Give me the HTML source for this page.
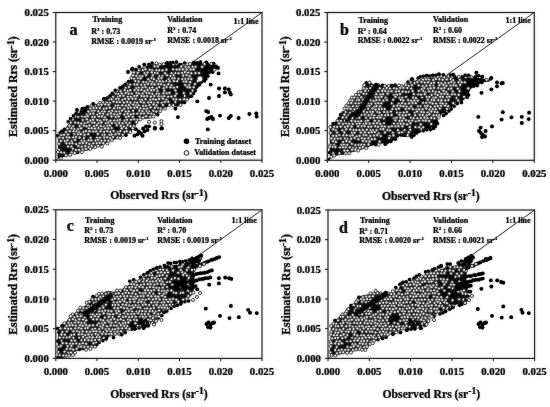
<!DOCTYPE html><html><head><meta charset="utf-8"><style>html,body{margin:0;padding:0;background:#fff;width:550px;height:407px;overflow:hidden}svg{display:block}.t{font-family:"Liberation Serif", "Times New Roman", serif;font-weight:bold;fill:#111;stroke:#111;stroke-width:.22px}.w circle{fill:#fff;stroke:#000;stroke-width:.75}.k circle{fill:#000}</style></head><body>
<svg width="550" height="407" viewBox="0 0 550 407">
<rect width="550" height="407" fill="#fff"/>
<g id="all">
<clipPath id="cpa"><rect x="55.8" y="12.5" width="206.2" height="147.7"/></clipPath>
<line x1="55.8" y1="160.2" x2="262" y2="12.5" stroke="#111" stroke-width=".8"/>
<g clip-path="url(#cpa)">
<polygon points="58.4,136.9 62,133.1 67.6,125.4 72.9,118.8 78.3,113.5 83.3,109.4 88.7,107.4 94.2,105.1 99.9,102.8 105.5,99.5 111.6,96.1 117.1,90.6 121.3,88.3 128,84.2 131.2,76.3 134.7,72 143,67 155.8,64.1 165.1,63.6 180,63.6 195,64.1 204.9,63.6 214.5,64.6 217.9,65.1 217.7,67.8 212.5,71.4 207,75.3 203.9,81.5 199.2,86.2 194.1,91.3 187.6,99.2 182.7,103.7 174.7,105.9 167.2,105.5 160.4,111.4 154.6,115.6 149.3,118.5 139.7,119.2 135.8,124.7 134.8,126.6 130.3,132.4 123.9,135.6 113.1,140.2 109.1,141.4 101.7,145.8 96.6,146.5 89.1,150.3 79,151.4 73.5,152.9 69.5,155 66,156.5 59.7,157.9 57.8,158.7" fill="#000"/>
<g class="k"><circle cx="148.8" cy="64.6" r="1.8"/><circle cx="166.2" cy="63.8" r="1.8"/><circle cx="169.4" cy="64.3" r="1.8"/><circle cx="180.5" cy="64.6" r="1.8"/><circle cx="196.4" cy="63.6" r="1.8"/><circle cx="200.2" cy="64.2" r="1.8"/><circle cx="207.9" cy="64.6" r="1.8"/><circle cx="147.7" cy="67.5" r="1.8"/><circle cx="151.2" cy="66.9" r="1.8"/><circle cx="168.5" cy="67" r="1.8"/><circle cx="175.1" cy="67.3" r="1.8"/><circle cx="177.8" cy="67" r="1.8"/><circle cx="205.6" cy="67.5" r="1.8"/><circle cx="206.9" cy="69.8" r="1.8"/><circle cx="141.4" cy="73" r="1.8"/><circle cx="161.9" cy="73" r="1.8"/><circle cx="167.7" cy="72.8" r="1.8"/><circle cx="206" cy="73.1" r="1.8"/><circle cx="209" cy="72.8" r="1.8"/><circle cx="212.6" cy="72.2" r="1.8"/><circle cx="148.8" cy="75.7" r="1.8"/><circle cx="180.8" cy="75.8" r="1.8"/><circle cx="196.7" cy="75.4" r="1.8"/><circle cx="200.5" cy="75.3" r="1.8"/><circle cx="193.3" cy="81.4" r="1.8"/><circle cx="200.4" cy="82" r="1.8"/><circle cx="182.5" cy="84" r="1.8"/><circle cx="191.4" cy="84.3" r="1.8"/><circle cx="199.5" cy="84.7" r="1.8"/><circle cx="180.5" cy="87.1" r="1.8"/><circle cx="183.4" cy="88" r="1.8"/><circle cx="161.7" cy="91" r="1.8"/><circle cx="167.7" cy="90.5" r="1.8"/><circle cx="181.2" cy="91.1" r="1.8"/><circle cx="185.4" cy="90.3" r="1.8"/><circle cx="189" cy="90.1" r="1.8"/><circle cx="187" cy="93.3" r="1.8"/><circle cx="193.4" cy="93.6" r="1.8"/><circle cx="189" cy="97" r="1.8"/><circle cx="181.7" cy="101.8" r="1.8"/><circle cx="184.5" cy="102.5" r="1.8"/><circle cx="112.1" cy="105.2" r="1.8"/><circle cx="166.5" cy="105.5" r="1.8"/><circle cx="177.2" cy="104.9" r="1.8"/><circle cx="109" cy="116.5" r="1.8"/><circle cx="136.2" cy="116.3" r="1.8"/><circle cx="76.3" cy="119.4" r="1.8"/><circle cx="133.1" cy="122.3" r="1.8"/><circle cx="77.1" cy="125.8" r="1.8"/><circle cx="84.7" cy="128.3" r="1.8"/><circle cx="129" cy="129.2" r="1.8"/><circle cx="63" cy="131.5" r="1.8"/><circle cx="94.9" cy="134.1" r="1.8"/><circle cx="87.1" cy="138.2" r="1.8"/><circle cx="93.8" cy="136.9" r="1.8"/><circle cx="78.2" cy="139.9" r="1.8"/><circle cx="74.8" cy="146.2" r="1.8"/><circle cx="66.7" cy="148.9" r="1.8"/><circle cx="77.7" cy="152.5" r="1.8"/></g>
<g class="w"><circle cx="156.4" cy="63.3" r="1.55"/><circle cx="159.7" cy="64.6" r="1.55"/><circle cx="163.6" cy="64.2" r="1.55"/><circle cx="173.3" cy="64.3" r="1.55"/><circle cx="176.5" cy="63.6" r="1.55"/><circle cx="184" cy="64.4" r="1.55"/><circle cx="187.3" cy="64.3" r="1.55"/><circle cx="189.9" cy="64" r="1.55"/><circle cx="204.5" cy="63.9" r="1.55"/><circle cx="211.3" cy="63.8" r="1.55"/><circle cx="144.5" cy="67.5" r="1.55"/><circle cx="154.6" cy="66.2" r="1.55"/><circle cx="157.9" cy="66.4" r="1.55"/><circle cx="181.4" cy="66.6" r="1.55"/><circle cx="185.6" cy="66.9" r="1.55"/><circle cx="188.7" cy="67.3" r="1.55"/><circle cx="192.6" cy="66.8" r="1.55"/><circle cx="195.6" cy="66.9" r="1.55"/><circle cx="202.1" cy="66.9" r="1.55"/><circle cx="138.8" cy="70.4" r="1.55"/><circle cx="142.8" cy="70.1" r="1.55"/><circle cx="145.5" cy="69.2" r="1.55"/><circle cx="149.8" cy="69.7" r="1.55"/><circle cx="152.3" cy="70.4" r="1.55"/><circle cx="156.5" cy="70.3" r="1.55"/><circle cx="159.1" cy="70.3" r="1.55"/><circle cx="162.5" cy="70.3" r="1.55"/><circle cx="166.4" cy="69.6" r="1.55"/><circle cx="173" cy="69.3" r="1.55"/><circle cx="176.7" cy="69.5" r="1.55"/><circle cx="179.6" cy="69.4" r="1.55"/><circle cx="182.9" cy="69.4" r="1.55"/><circle cx="186.6" cy="69.6" r="1.55"/><circle cx="190.7" cy="69.5" r="1.55"/><circle cx="193.7" cy="69.4" r="1.55"/><circle cx="214.5" cy="69.7" r="1.55"/><circle cx="133.9" cy="72.4" r="1.55"/><circle cx="137.7" cy="72.8" r="1.55"/><circle cx="144.7" cy="73.3" r="1.55"/><circle cx="147.6" cy="72.5" r="1.55"/><circle cx="151.9" cy="72.3" r="1.55"/><circle cx="154.9" cy="73" r="1.55"/><circle cx="157.4" cy="73.2" r="1.55"/><circle cx="165.1" cy="73.2" r="1.55"/><circle cx="171.6" cy="73.2" r="1.55"/><circle cx="175.4" cy="73.2" r="1.55"/><circle cx="178.5" cy="73.3" r="1.55"/><circle cx="182.1" cy="73" r="1.55"/><circle cx="184.8" cy="72.1" r="1.55"/><circle cx="188.1" cy="72.6" r="1.55"/><circle cx="191.4" cy="73.2" r="1.55"/><circle cx="195.5" cy="73" r="1.55"/><circle cx="199" cy="73" r="1.55"/><circle cx="133.1" cy="75.2" r="1.55"/><circle cx="136.3" cy="75.7" r="1.55"/><circle cx="139.8" cy="76" r="1.55"/><circle cx="142.3" cy="76.3" r="1.55"/><circle cx="146.1" cy="75.1" r="1.55"/><circle cx="152.8" cy="75.4" r="1.55"/><circle cx="159.4" cy="76.2" r="1.55"/><circle cx="162.4" cy="76.1" r="1.55"/><circle cx="167" cy="75.2" r="1.55"/><circle cx="170.5" cy="76" r="1.55"/><circle cx="173.9" cy="75.4" r="1.55"/><circle cx="183.3" cy="75.6" r="1.55"/><circle cx="186.6" cy="75.1" r="1.55"/><circle cx="189.7" cy="76.2" r="1.55"/><circle cx="131.5" cy="78.1" r="1.55"/><circle cx="134.2" cy="78.8" r="1.55"/><circle cx="138.1" cy="78.3" r="1.55"/><circle cx="140.7" cy="78.3" r="1.55"/><circle cx="148.4" cy="79.2" r="1.55"/><circle cx="151.7" cy="78" r="1.55"/><circle cx="153.9" cy="79" r="1.55"/><circle cx="158.6" cy="78.6" r="1.55"/><circle cx="161.5" cy="78" r="1.55"/><circle cx="168.7" cy="79.2" r="1.55"/><circle cx="172.3" cy="78.3" r="1.55"/><circle cx="174.5" cy="78.2" r="1.55"/><circle cx="178.4" cy="78.9" r="1.55"/><circle cx="182.4" cy="79" r="1.55"/><circle cx="185.4" cy="79" r="1.55"/><circle cx="188.5" cy="78.7" r="1.55"/><circle cx="191.4" cy="79.1" r="1.55"/><circle cx="199" cy="78.4" r="1.55"/><circle cx="135.4" cy="81" r="1.55"/><circle cx="138.7" cy="81.5" r="1.55"/><circle cx="143.3" cy="82.1" r="1.55"/><circle cx="146.4" cy="82.3" r="1.55"/><circle cx="150.1" cy="81.4" r="1.55"/><circle cx="152.5" cy="82.2" r="1.55"/><circle cx="156.6" cy="81" r="1.55"/><circle cx="159.9" cy="81.4" r="1.55"/><circle cx="162.9" cy="81.4" r="1.55"/><circle cx="166" cy="80.9" r="1.55"/><circle cx="169.6" cy="81.4" r="1.55"/><circle cx="173.9" cy="81.1" r="1.55"/><circle cx="177.3" cy="81.2" r="1.55"/><circle cx="184" cy="81.5" r="1.55"/><circle cx="186.3" cy="81.6" r="1.55"/><circle cx="190.1" cy="82.2" r="1.55"/><circle cx="197.7" cy="81" r="1.55"/><circle cx="124.5" cy="85.2" r="1.55"/><circle cx="127.1" cy="84" r="1.55"/><circle cx="130.2" cy="84.6" r="1.55"/><circle cx="134.5" cy="84.5" r="1.55"/><circle cx="137.2" cy="84.4" r="1.55"/><circle cx="141.2" cy="84.8" r="1.55"/><circle cx="144.7" cy="85" r="1.55"/><circle cx="148" cy="84" r="1.55"/><circle cx="151.7" cy="84.3" r="1.55"/><circle cx="154.7" cy="84.4" r="1.55"/><circle cx="158.3" cy="84.1" r="1.55"/><circle cx="161" cy="84.2" r="1.55"/><circle cx="164.3" cy="85.1" r="1.55"/><circle cx="168.3" cy="84.3" r="1.55"/><circle cx="171.5" cy="85.2" r="1.55"/><circle cx="185.2" cy="85" r="1.55"/><circle cx="189.1" cy="85.1" r="1.55"/><circle cx="194.9" cy="84.1" r="1.55"/><circle cx="125.6" cy="88" r="1.55"/><circle cx="129" cy="87" r="1.55"/><circle cx="136.1" cy="88.1" r="1.55"/><circle cx="138.7" cy="87.7" r="1.55"/><circle cx="142.5" cy="87.5" r="1.55"/><circle cx="145.6" cy="87.2" r="1.55"/><circle cx="149.5" cy="88.1" r="1.55"/><circle cx="152.4" cy="87.5" r="1.55"/><circle cx="156.7" cy="88.2" r="1.55"/><circle cx="159.3" cy="87" r="1.55"/><circle cx="163.7" cy="88.2" r="1.55"/><circle cx="166.5" cy="86.9" r="1.55"/><circle cx="170.5" cy="87.3" r="1.55"/><circle cx="173.9" cy="87.7" r="1.55"/><circle cx="177.2" cy="87" r="1.55"/><circle cx="187.4" cy="87.1" r="1.55"/><circle cx="189.9" cy="87.4" r="1.55"/><circle cx="193.7" cy="87.3" r="1.55"/><circle cx="116.8" cy="91.1" r="1.55"/><circle cx="120.6" cy="91.1" r="1.55"/><circle cx="124.6" cy="90" r="1.55"/><circle cx="127.8" cy="91" r="1.55"/><circle cx="130.2" cy="90.2" r="1.55"/><circle cx="134.6" cy="90" r="1.55"/><circle cx="138.2" cy="90.1" r="1.55"/><circle cx="141.4" cy="89.9" r="1.55"/><circle cx="144.4" cy="91" r="1.55"/><circle cx="147.4" cy="90.1" r="1.55"/><circle cx="151.2" cy="90.2" r="1.55"/><circle cx="154" cy="90" r="1.55"/><circle cx="157.5" cy="91.1" r="1.55"/><circle cx="164.3" cy="90.8" r="1.55"/><circle cx="175.5" cy="90.5" r="1.55"/><circle cx="192.7" cy="90.6" r="1.55"/><circle cx="116.1" cy="93.7" r="1.55"/><circle cx="118.5" cy="94" r="1.55"/><circle cx="121.7" cy="93.4" r="1.55"/><circle cx="125.6" cy="93" r="1.55"/><circle cx="128.5" cy="93.8" r="1.55"/><circle cx="131.8" cy="93.5" r="1.55"/><circle cx="136.5" cy="92.9" r="1.55"/><circle cx="138.9" cy="93.5" r="1.55"/><circle cx="142.7" cy="93.6" r="1.55"/><circle cx="146.5" cy="92.9" r="1.55"/><circle cx="149.2" cy="93.1" r="1.55"/><circle cx="152.3" cy="93.9" r="1.55"/><circle cx="156.7" cy="93.7" r="1.55"/><circle cx="159" cy="93.9" r="1.55"/><circle cx="163.4" cy="93.3" r="1.55"/><circle cx="166.8" cy="93.3" r="1.55"/><circle cx="169.5" cy="92.8" r="1.55"/><circle cx="176.5" cy="93.7" r="1.55"/><circle cx="183.8" cy="93.1" r="1.55"/><circle cx="190.7" cy="93.4" r="1.55"/><circle cx="110.8" cy="96.9" r="1.55"/><circle cx="113.2" cy="96.8" r="1.55"/><circle cx="117.8" cy="97" r="1.55"/><circle cx="120" cy="95.9" r="1.55"/><circle cx="123.5" cy="95.7" r="1.55"/><circle cx="127.9" cy="96.8" r="1.55"/><circle cx="131" cy="96.8" r="1.55"/><circle cx="134.4" cy="96" r="1.55"/><circle cx="137" cy="95.8" r="1.55"/><circle cx="141.4" cy="95.9" r="1.55"/><circle cx="144.1" cy="96.2" r="1.55"/><circle cx="147.1" cy="96" r="1.55"/><circle cx="150.9" cy="96.6" r="1.55"/><circle cx="154.4" cy="96.1" r="1.55"/><circle cx="158.6" cy="96.3" r="1.55"/><circle cx="161.9" cy="96.5" r="1.55"/><circle cx="164.1" cy="96.2" r="1.55"/><circle cx="168.1" cy="96.7" r="1.55"/><circle cx="171.4" cy="96.6" r="1.55"/><circle cx="175.1" cy="95.9" r="1.55"/><circle cx="184.5" cy="95.9" r="1.55"/><circle cx="104.8" cy="99.2" r="1.55"/><circle cx="109.1" cy="99.4" r="1.55"/><circle cx="111.6" cy="99.2" r="1.55"/><circle cx="116" cy="98.9" r="1.55"/><circle cx="118.5" cy="99" r="1.55"/><circle cx="122.6" cy="99.8" r="1.55"/><circle cx="125.2" cy="98.8" r="1.55"/><circle cx="128.7" cy="99" r="1.55"/><circle cx="132.5" cy="98.8" r="1.55"/><circle cx="135.7" cy="98.8" r="1.55"/><circle cx="140" cy="99.6" r="1.55"/><circle cx="142.1" cy="99.9" r="1.55"/><circle cx="145.5" cy="99.1" r="1.55"/><circle cx="150.2" cy="99.7" r="1.55"/><circle cx="153.2" cy="99.2" r="1.55"/><circle cx="155.9" cy="99.5" r="1.55"/><circle cx="159.1" cy="98.9" r="1.55"/><circle cx="162.9" cy="98.6" r="1.55"/><circle cx="166.4" cy="99.7" r="1.55"/><circle cx="173.5" cy="99.2" r="1.55"/><circle cx="176.2" cy="99.4" r="1.55"/><circle cx="180" cy="99.6" r="1.55"/><circle cx="184.1" cy="99.2" r="1.55"/><circle cx="187" cy="99.6" r="1.55"/><circle cx="100.1" cy="102.8" r="1.55"/><circle cx="103.2" cy="102.5" r="1.55"/><circle cx="106.8" cy="102.6" r="1.55"/><circle cx="109.9" cy="102.9" r="1.55"/><circle cx="113.6" cy="101.6" r="1.55"/><circle cx="116.9" cy="102.1" r="1.55"/><circle cx="119.9" cy="102.1" r="1.55"/><circle cx="123.9" cy="102.5" r="1.55"/><circle cx="127.2" cy="101.9" r="1.55"/><circle cx="130.4" cy="102.6" r="1.55"/><circle cx="134.8" cy="102.3" r="1.55"/><circle cx="137.2" cy="102.6" r="1.55"/><circle cx="140.8" cy="101.8" r="1.55"/><circle cx="143.9" cy="102.6" r="1.55"/><circle cx="148.2" cy="102.4" r="1.55"/><circle cx="151.2" cy="102.3" r="1.55"/><circle cx="154.2" cy="102.9" r="1.55"/><circle cx="157.8" cy="102.4" r="1.55"/><circle cx="161.8" cy="102.7" r="1.55"/><circle cx="164.8" cy="101.9" r="1.55"/><circle cx="168.3" cy="101.7" r="1.55"/><circle cx="175.5" cy="101.9" r="1.55"/><circle cx="91.7" cy="105.5" r="1.55"/><circle cx="95" cy="105.7" r="1.55"/><circle cx="98.6" cy="104.8" r="1.55"/><circle cx="101.5" cy="104.7" r="1.55"/><circle cx="105.3" cy="104.5" r="1.55"/><circle cx="108.7" cy="104.7" r="1.55"/><circle cx="115.6" cy="105.7" r="1.55"/><circle cx="118.2" cy="105.6" r="1.55"/><circle cx="122.3" cy="105.3" r="1.55"/><circle cx="125.9" cy="105.6" r="1.55"/><circle cx="128.9" cy="105.1" r="1.55"/><circle cx="133.1" cy="104.6" r="1.55"/><circle cx="136.1" cy="105.4" r="1.55"/><circle cx="138.6" cy="105.3" r="1.55"/><circle cx="143" cy="105.8" r="1.55"/><circle cx="145.9" cy="105.8" r="1.55"/><circle cx="149.5" cy="105.1" r="1.55"/><circle cx="153.5" cy="104.5" r="1.55"/><circle cx="156.6" cy="105.3" r="1.55"/><circle cx="162.9" cy="105.1" r="1.55"/><circle cx="169.5" cy="105.1" r="1.55"/><circle cx="173.2" cy="105.2" r="1.55"/><circle cx="180.6" cy="105" r="1.55"/><circle cx="83.6" cy="108.7" r="1.55"/><circle cx="86.8" cy="107.9" r="1.55"/><circle cx="90.5" cy="108.5" r="1.55"/><circle cx="93.5" cy="107.8" r="1.55"/><circle cx="96.5" cy="108" r="1.55"/><circle cx="99.9" cy="108" r="1.55"/><circle cx="103.8" cy="108.7" r="1.55"/><circle cx="106.4" cy="108.2" r="1.55"/><circle cx="109.8" cy="107.6" r="1.55"/><circle cx="114.2" cy="108.2" r="1.55"/><circle cx="117.8" cy="108" r="1.55"/><circle cx="119.9" cy="108" r="1.55"/><circle cx="124.1" cy="108.7" r="1.55"/><circle cx="128.1" cy="108.1" r="1.55"/><circle cx="130.7" cy="107.6" r="1.55"/><circle cx="134.4" cy="107.7" r="1.55"/><circle cx="137.1" cy="107.4" r="1.55"/><circle cx="140.3" cy="108.4" r="1.55"/><circle cx="143.9" cy="108.8" r="1.55"/><circle cx="147.2" cy="108.6" r="1.55"/><circle cx="150.7" cy="107.4" r="1.55"/><circle cx="154.9" cy="107.7" r="1.55"/><circle cx="158.3" cy="107.7" r="1.55"/><circle cx="160.8" cy="108.5" r="1.55"/><circle cx="165.1" cy="108.6" r="1.55"/><circle cx="88.4" cy="111.6" r="1.55"/><circle cx="92.1" cy="110.8" r="1.55"/><circle cx="94.4" cy="110.7" r="1.55"/><circle cx="98.4" cy="111.2" r="1.55"/><circle cx="102.3" cy="111.6" r="1.55"/><circle cx="104.7" cy="111.5" r="1.55"/><circle cx="109.1" cy="111.6" r="1.55"/><circle cx="112.2" cy="110.7" r="1.55"/><circle cx="116" cy="111.5" r="1.55"/><circle cx="119.2" cy="111.6" r="1.55"/><circle cx="122.1" cy="110.5" r="1.55"/><circle cx="125.8" cy="111.5" r="1.55"/><circle cx="128.7" cy="111.4" r="1.55"/><circle cx="133.1" cy="110.7" r="1.55"/><circle cx="139.3" cy="110.6" r="1.55"/><circle cx="142.4" cy="111.4" r="1.55"/><circle cx="146.5" cy="111" r="1.55"/><circle cx="148.9" cy="111.5" r="1.55"/><circle cx="153.3" cy="110.7" r="1.55"/><circle cx="156.4" cy="111.6" r="1.55"/><circle cx="160.2" cy="111.1" r="1.55"/><circle cx="76.5" cy="113.9" r="1.55"/><circle cx="86.8" cy="114.6" r="1.55"/><circle cx="90.2" cy="113.8" r="1.55"/><circle cx="93.3" cy="113.5" r="1.55"/><circle cx="97.5" cy="114.7" r="1.55"/><circle cx="99.8" cy="113.4" r="1.55"/><circle cx="103.3" cy="113.8" r="1.55"/><circle cx="107.6" cy="114.6" r="1.55"/><circle cx="110.9" cy="113.4" r="1.55"/><circle cx="114.2" cy="114.3" r="1.55"/><circle cx="117.4" cy="114.7" r="1.55"/><circle cx="120" cy="113.5" r="1.55"/><circle cx="124.4" cy="114.6" r="1.55"/><circle cx="127.6" cy="113.7" r="1.55"/><circle cx="130.9" cy="114.4" r="1.55"/><circle cx="133.6" cy="113.8" r="1.55"/><circle cx="137.3" cy="113.5" r="1.55"/><circle cx="141" cy="113.5" r="1.55"/><circle cx="144" cy="113.5" r="1.55"/><circle cx="148" cy="113.3" r="1.55"/><circle cx="151.5" cy="113.6" r="1.55"/><circle cx="154" cy="114.6" r="1.55"/><circle cx="75.3" cy="116.3" r="1.55"/><circle cx="78.4" cy="116.7" r="1.55"/><circle cx="82.2" cy="116.3" r="1.55"/><circle cx="85.3" cy="116.7" r="1.55"/><circle cx="87.8" cy="116.2" r="1.55"/><circle cx="92.2" cy="117" r="1.55"/><circle cx="94.7" cy="116.9" r="1.55"/><circle cx="99.1" cy="116.5" r="1.55"/><circle cx="102" cy="116.4" r="1.55"/><circle cx="104.9" cy="117.3" r="1.55"/><circle cx="111.5" cy="116.4" r="1.55"/><circle cx="115.7" cy="116.9" r="1.55"/><circle cx="118.6" cy="116.5" r="1.55"/><circle cx="126.1" cy="117.1" r="1.55"/><circle cx="128.7" cy="116.3" r="1.55"/><circle cx="132.8" cy="116.8" r="1.55"/><circle cx="139.7" cy="116.7" r="1.55"/><circle cx="143.2" cy="117.5" r="1.55"/><circle cx="146.1" cy="116.3" r="1.55"/><circle cx="150.1" cy="116.9" r="1.55"/><circle cx="153.4" cy="116.6" r="1.55"/><circle cx="72.7" cy="119.4" r="1.55"/><circle cx="82.7" cy="120" r="1.55"/><circle cx="86.9" cy="119.4" r="1.55"/><circle cx="90.5" cy="120.5" r="1.55"/><circle cx="93.2" cy="119.8" r="1.55"/><circle cx="97.3" cy="119.9" r="1.55"/><circle cx="100.1" cy="120.5" r="1.55"/><circle cx="104" cy="119.7" r="1.55"/><circle cx="106.6" cy="119.7" r="1.55"/><circle cx="110.3" cy="120.6" r="1.55"/><circle cx="114.2" cy="120.5" r="1.55"/><circle cx="117.6" cy="120.4" r="1.55"/><circle cx="120" cy="119.9" r="1.55"/><circle cx="124.6" cy="120.5" r="1.55"/><circle cx="127" cy="119.8" r="1.55"/><circle cx="131" cy="119.7" r="1.55"/><circle cx="134.2" cy="119.3" r="1.55"/><circle cx="137.5" cy="119.9" r="1.55"/><circle cx="140.3" cy="119.4" r="1.55"/><circle cx="70.6" cy="122.6" r="1.55"/><circle cx="75.2" cy="122.5" r="1.55"/><circle cx="78.2" cy="122.8" r="1.55"/><circle cx="81.2" cy="123.5" r="1.55"/><circle cx="84.6" cy="123.2" r="1.55"/><circle cx="87.8" cy="122.2" r="1.55"/><circle cx="92.2" cy="122.7" r="1.55"/><circle cx="94.5" cy="122.7" r="1.55"/><circle cx="98.4" cy="123.2" r="1.55"/><circle cx="101.4" cy="122.4" r="1.55"/><circle cx="105.9" cy="123.2" r="1.55"/><circle cx="108.2" cy="122.6" r="1.55"/><circle cx="111.9" cy="123.1" r="1.55"/><circle cx="115.7" cy="123.3" r="1.55"/><circle cx="119.3" cy="122.9" r="1.55"/><circle cx="122.6" cy="123.2" r="1.55"/><circle cx="126.1" cy="122.8" r="1.55"/><circle cx="129.5" cy="123.1" r="1.55"/><circle cx="136.4" cy="122.1" r="1.55"/><circle cx="69.5" cy="125.9" r="1.55"/><circle cx="73.1" cy="126.3" r="1.55"/><circle cx="79.7" cy="126" r="1.55"/><circle cx="83.9" cy="125.6" r="1.55"/><circle cx="86.6" cy="126.2" r="1.55"/><circle cx="89.5" cy="125.5" r="1.55"/><circle cx="94.1" cy="126.2" r="1.55"/><circle cx="96.8" cy="125.2" r="1.55"/><circle cx="100.8" cy="126" r="1.55"/><circle cx="104" cy="126.5" r="1.55"/><circle cx="107.5" cy="125.7" r="1.55"/><circle cx="109.9" cy="125.5" r="1.55"/><circle cx="116.8" cy="125.3" r="1.55"/><circle cx="120.8" cy="125.9" r="1.55"/><circle cx="123.8" cy="126.5" r="1.55"/><circle cx="127.6" cy="125.1" r="1.55"/><circle cx="130.7" cy="126.2" r="1.55"/><circle cx="133.9" cy="126" r="1.55"/><circle cx="67.5" cy="128.6" r="1.55"/><circle cx="71.6" cy="128.3" r="1.55"/><circle cx="74.4" cy="129.2" r="1.55"/><circle cx="78.1" cy="129.1" r="1.55"/><circle cx="81.1" cy="128.3" r="1.55"/><circle cx="89" cy="128.4" r="1.55"/><circle cx="91.8" cy="128.2" r="1.55"/><circle cx="95.1" cy="128.6" r="1.55"/><circle cx="98.4" cy="128.1" r="1.55"/><circle cx="101.4" cy="129.2" r="1.55"/><circle cx="105.1" cy="128.4" r="1.55"/><circle cx="108.3" cy="128.4" r="1.55"/><circle cx="111.7" cy="128.1" r="1.55"/><circle cx="121.7" cy="128.4" r="1.55"/><circle cx="126.2" cy="128.2" r="1.55"/><circle cx="132.9" cy="128.2" r="1.55"/><circle cx="66.1" cy="131.9" r="1.55"/><circle cx="69.9" cy="131.3" r="1.55"/><circle cx="73.5" cy="131.5" r="1.55"/><circle cx="76.6" cy="131.2" r="1.55"/><circle cx="79.3" cy="132.2" r="1.55"/><circle cx="83.5" cy="132" r="1.55"/><circle cx="86" cy="131" r="1.55"/><circle cx="89.5" cy="131.2" r="1.55"/><circle cx="93.1" cy="131.5" r="1.55"/><circle cx="96.2" cy="131.4" r="1.55"/><circle cx="100.4" cy="131.2" r="1.55"/><circle cx="104.1" cy="131.8" r="1.55"/><circle cx="107.3" cy="131.3" r="1.55"/><circle cx="110.3" cy="131.9" r="1.55"/><circle cx="113.6" cy="131" r="1.55"/><circle cx="117.7" cy="132.1" r="1.55"/><circle cx="120.3" cy="131" r="1.55"/><circle cx="124.5" cy="131.8" r="1.55"/><circle cx="126.8" cy="131.3" r="1.55"/><circle cx="130.3" cy="132.1" r="1.55"/><circle cx="61.2" cy="135" r="1.55"/><circle cx="64" cy="134.8" r="1.55"/><circle cx="68" cy="134.6" r="1.55"/><circle cx="74.2" cy="134.3" r="1.55"/><circle cx="77.9" cy="134.2" r="1.55"/><circle cx="80.9" cy="134.3" r="1.55"/><circle cx="84.5" cy="134.9" r="1.55"/><circle cx="88.2" cy="134.1" r="1.55"/><circle cx="97.9" cy="133.9" r="1.55"/><circle cx="102.6" cy="135" r="1.55"/><circle cx="104.7" cy="134.9" r="1.55"/><circle cx="109.4" cy="134.7" r="1.55"/><circle cx="111.6" cy="134.6" r="1.55"/><circle cx="115.4" cy="134.2" r="1.55"/><circle cx="119" cy="133.9" r="1.55"/><circle cx="122.9" cy="134.8" r="1.55"/><circle cx="59.2" cy="137.5" r="1.55"/><circle cx="63" cy="138" r="1.55"/><circle cx="66.8" cy="137.1" r="1.55"/><circle cx="69.3" cy="137.5" r="1.55"/><circle cx="73.1" cy="137.3" r="1.55"/><circle cx="76" cy="137" r="1.55"/><circle cx="79.6" cy="137.5" r="1.55"/><circle cx="83.9" cy="138.1" r="1.55"/><circle cx="90.6" cy="137.7" r="1.55"/><circle cx="97" cy="137.7" r="1.55"/><circle cx="99.9" cy="137.7" r="1.55"/><circle cx="104.2" cy="137.5" r="1.55"/><circle cx="107.2" cy="137.3" r="1.55"/><circle cx="110.2" cy="138.1" r="1.55"/><circle cx="113.1" cy="137.1" r="1.55"/><circle cx="117.5" cy="137.5" r="1.55"/><circle cx="120" cy="137.8" r="1.55"/><circle cx="60.9" cy="140.9" r="1.55"/><circle cx="64.8" cy="141" r="1.55"/><circle cx="67.4" cy="140.3" r="1.55"/><circle cx="71.6" cy="141.1" r="1.55"/><circle cx="75" cy="139.9" r="1.55"/><circle cx="81.6" cy="140.9" r="1.55"/><circle cx="84.4" cy="141.1" r="1.55"/><circle cx="88.5" cy="140.2" r="1.55"/><circle cx="91.3" cy="140.4" r="1.55"/><circle cx="95.6" cy="140.6" r="1.55"/><circle cx="98" cy="139.8" r="1.55"/><circle cx="101.4" cy="140.9" r="1.55"/><circle cx="104.9" cy="140.6" r="1.55"/><circle cx="108.4" cy="140.8" r="1.55"/><circle cx="111.9" cy="140" r="1.55"/><circle cx="59.1" cy="143.8" r="1.55"/><circle cx="66.4" cy="143.2" r="1.55"/><circle cx="69.7" cy="143.3" r="1.55"/><circle cx="72.4" cy="143.2" r="1.55"/><circle cx="76.2" cy="144.1" r="1.55"/><circle cx="79.8" cy="143.3" r="1.55"/><circle cx="82.8" cy="143.1" r="1.55"/><circle cx="86.4" cy="142.9" r="1.55"/><circle cx="89.3" cy="144" r="1.55"/><circle cx="93.3" cy="143.4" r="1.55"/><circle cx="96.9" cy="143.2" r="1.55"/><circle cx="99.7" cy="142.8" r="1.55"/><circle cx="103.3" cy="143.2" r="1.55"/><circle cx="107.3" cy="143.5" r="1.55"/><circle cx="68" cy="146.5" r="1.55"/><circle cx="71.4" cy="146.6" r="1.55"/><circle cx="78.4" cy="146" r="1.55"/><circle cx="81.8" cy="146.8" r="1.55"/><circle cx="85.3" cy="146.1" r="1.55"/><circle cx="88.7" cy="147.1" r="1.55"/><circle cx="91.6" cy="146.1" r="1.55"/><circle cx="95.1" cy="147" r="1.55"/><circle cx="98" cy="145.7" r="1.55"/><circle cx="101.9" cy="146.6" r="1.55"/><circle cx="59" cy="149.9" r="1.55"/><circle cx="72.7" cy="148.7" r="1.55"/><circle cx="75.9" cy="150" r="1.55"/><circle cx="79.1" cy="149.9" r="1.55"/><circle cx="82.7" cy="149.7" r="1.55"/><circle cx="86" cy="148.9" r="1.55"/><circle cx="90.3" cy="148.8" r="1.55"/><circle cx="58" cy="152" r="1.55"/><circle cx="61.3" cy="152.3" r="1.55"/><circle cx="64.2" cy="152.9" r="1.55"/><circle cx="71.8" cy="152.3" r="1.55"/><circle cx="74.8" cy="153" r="1.55"/><circle cx="81.8" cy="152.1" r="1.55"/><circle cx="66" cy="155.3" r="1.55"/><circle cx="70.2" cy="154.8" r="1.55"/><circle cx="60.8" cy="158.5" r="1.55"/></g>
<g class="k"><circle cx="193.5" cy="63.3" r="1.8"/><circle cx="213.7" cy="63.6" r="1.8"/><circle cx="160.7" cy="67.3" r="1.8"/><circle cx="164.3" cy="66.9" r="1.8"/><circle cx="171.4" cy="66.9" r="1.8"/><circle cx="198.8" cy="67.2" r="1.8"/><circle cx="209.3" cy="67.4" r="1.8"/><circle cx="213" cy="66.6" r="1.8"/><circle cx="215.9" cy="67.5" r="1.8"/><circle cx="170" cy="70.4" r="1.8"/><circle cx="196.9" cy="69.2" r="1.8"/><circle cx="200.2" cy="69.2" r="1.8"/><circle cx="204.2" cy="69.9" r="1.8"/><circle cx="211.3" cy="69.3" r="1.8"/><circle cx="202.2" cy="72.1" r="1.8"/><circle cx="155.8" cy="75.5" r="1.8"/><circle cx="176.5" cy="75.6" r="1.8"/><circle cx="193.4" cy="76.3" r="1.8"/><circle cx="203.7" cy="76.4" r="1.8"/><circle cx="207.8" cy="76.2" r="1.8"/><circle cx="144.3" cy="78.6" r="1.8"/><circle cx="164.6" cy="79.3" r="1.8"/><circle cx="195" cy="79.3" r="1.8"/><circle cx="201.7" cy="78.3" r="1.8"/><circle cx="205.8" cy="78.9" r="1.8"/><circle cx="128.6" cy="81.5" r="1.8"/><circle cx="132.1" cy="82.3" r="1.8"/><circle cx="179.9" cy="82.1" r="1.8"/><circle cx="204.3" cy="81" r="1.8"/><circle cx="175" cy="84.2" r="1.8"/><circle cx="178.8" cy="84.8" r="1.8"/><circle cx="122.2" cy="87.9" r="1.8"/><circle cx="131.8" cy="87.6" r="1.8"/><circle cx="196.6" cy="87.1" r="1.8"/><circle cx="171.8" cy="90.2" r="1.8"/><circle cx="178.5" cy="91" r="1.8"/><circle cx="195.2" cy="90.8" r="1.8"/><circle cx="172.9" cy="92.7" r="1.8"/><circle cx="180.4" cy="93.9" r="1.8"/><circle cx="178.9" cy="95.8" r="1.8"/><circle cx="182.2" cy="95.9" r="1.8"/><circle cx="191.3" cy="96.3" r="1.8"/><circle cx="170.2" cy="99.3" r="1.8"/><circle cx="172.1" cy="102" r="1.8"/><circle cx="178.2" cy="101.9" r="1.8"/><circle cx="159.5" cy="105.7" r="1.8"/><circle cx="81.4" cy="111.6" r="1.8"/><circle cx="84.7" cy="111.3" r="1.8"/><circle cx="136" cy="111.3" r="1.8"/><circle cx="79.3" cy="114.6" r="1.8"/><circle cx="82.9" cy="114.1" r="1.8"/><circle cx="157.6" cy="114.6" r="1.8"/><circle cx="122.5" cy="117.2" r="1.8"/><circle cx="79.9" cy="120.4" r="1.8"/><circle cx="113.8" cy="125.8" r="1.8"/><circle cx="64.5" cy="129.4" r="1.8"/><circle cx="115.7" cy="128.5" r="1.8"/><circle cx="118.4" cy="129" r="1.8"/><circle cx="71.7" cy="135.1" r="1.8"/><circle cx="91.5" cy="134.6" r="1.8"/><circle cx="125.9" cy="135.2" r="1.8"/><circle cx="63.1" cy="143.5" r="1.8"/><circle cx="61.5" cy="145.8" r="1.8"/><circle cx="64.9" cy="146.3" r="1.8"/><circle cx="62.6" cy="149.7" r="1.8"/><circle cx="70.1" cy="150" r="1.8"/><circle cx="67.2" cy="152.6" r="1.8"/><circle cx="59.3" cy="155.4" r="1.8"/><circle cx="63.2" cy="155" r="1.8"/></g>
<g class="k"><circle cx="57.4" cy="135.7" r="1.8"/><circle cx="60.1" cy="132.8" r="1.8"/><circle cx="61.8" cy="131.2" r="1.8"/><circle cx="68.2" cy="121.8" r="1.8"/><circle cx="70.6" cy="118.7" r="1.8"/><circle cx="70.6" cy="119" r="1.8"/><circle cx="73.5" cy="115.8" r="1.8"/><circle cx="76.1" cy="113.7" r="1.8"/><circle cx="82.3" cy="109" r="1.8"/><circle cx="82.4" cy="108.7" r="1.8"/><circle cx="85.3" cy="108.5" r="1.8"/><circle cx="87.7" cy="106.9" r="1.8"/><circle cx="93.6" cy="104.4" r="1.8"/><circle cx="93.2" cy="103.9" r="1.8"/><circle cx="104.1" cy="98.8" r="1.8"/><circle cx="103.9" cy="99.1" r="1.8"/><circle cx="107.4" cy="98.1" r="1.8"/><circle cx="110.4" cy="95.8" r="1.8"/><circle cx="109.8" cy="96.2" r="1.8"/><circle cx="112.3" cy="93.4" r="1.8"/><circle cx="115.3" cy="90.4" r="1.8"/><circle cx="120" cy="87.7" r="1.8"/><circle cx="123" cy="86.3" r="1.8"/><circle cx="125.7" cy="84.3" r="1.8"/></g>
<g class="k"><circle cx="132.5" cy="68.5" r="1.8"/><circle cx="139.2" cy="66.7" r="1.8"/><circle cx="152.1" cy="63.1" r="1.8"/><circle cx="167.2" cy="62.8" r="1.8"/><circle cx="170.2" cy="62.7" r="1.8"/><circle cx="172.8" cy="62.6" r="1.8"/><circle cx="176.4" cy="62.1" r="1.8"/><circle cx="184.6" cy="63" r="1.8"/><circle cx="193.7" cy="62.5" r="1.8"/><circle cx="197.1" cy="62.9" r="1.8"/><circle cx="200.5" cy="62" r="1.8"/><circle cx="200.1" cy="62.6" r="1.8"/><circle cx="206.4" cy="62.2" r="1.8"/></g>
<g class="k"></g>
<circle cx="200" cy="79" r="2.4" fill="#fff"/>
<g class="w"><circle cx="149" cy="121.9" r="1.55"/><circle cx="154.8" cy="122.6" r="1.55"/><circle cx="161.4" cy="121.2" r="1.55"/><circle cx="161.4" cy="124.1" r="1.55"/></g>
<g class="k"><circle cx="218" cy="67.9" r="1.9"/><circle cx="218.6" cy="73.4" r="1.9"/><circle cx="210.7" cy="84.6" r="1.9"/><circle cx="219" cy="88.5" r="1.9"/><circle cx="224.9" cy="88.5" r="1.9"/><circle cx="228.8" cy="89.5" r="1.9"/><circle cx="229.8" cy="92.4" r="1.9"/><circle cx="230.8" cy="94.4" r="1.9"/><circle cx="224.9" cy="92.4" r="1.9"/><circle cx="219" cy="96" r="1.9"/><circle cx="209" cy="98" r="1.9"/><circle cx="197.3" cy="101.3" r="1.9"/><circle cx="175.4" cy="108.5" r="1.9"/><circle cx="177.9" cy="117.1" r="1.9"/><circle cx="206.2" cy="111.1" r="1.9"/><circle cx="208.2" cy="112" r="1.9"/><circle cx="207.2" cy="119" r="1.9"/><circle cx="209.1" cy="118" r="1.9"/><circle cx="211.5" cy="117" r="1.9"/><circle cx="213" cy="119" r="1.9"/><circle cx="220" cy="115.6" r="1.9"/><circle cx="228.8" cy="118" r="1.9"/><circle cx="230.8" cy="116" r="1.9"/><circle cx="238.6" cy="118" r="1.9"/><circle cx="249.4" cy="114" r="1.9"/><circle cx="256.3" cy="113.5" r="1.9"/><circle cx="256.7" cy="116.6" r="1.9"/><circle cx="207.8" cy="129.4" r="1.9"/><circle cx="161.9" cy="128.2" r="1.9"/><circle cx="155" cy="128" r="1.9"/><circle cx="77" cy="110" r="1.9"/><circle cx="128" cy="72" r="1.9"/><circle cx="132" cy="69.5" r="1.9"/><circle cx="136" cy="69.7" r="1.9"/><circle cx="144.3" cy="64.6" r="1.9"/><circle cx="149.5" cy="66" r="1.9"/><circle cx="135.9" cy="129.2" r="1.9"/><circle cx="138.8" cy="131.4" r="1.9"/><circle cx="141" cy="133.5" r="1.9"/><circle cx="143.2" cy="128.5" r="1.9"/><circle cx="146.1" cy="126.3" r="1.9"/><circle cx="147.5" cy="129.9" r="1.9"/><circle cx="144.6" cy="131.4" r="1.9"/><circle cx="137.4" cy="134.3" r="1.9"/><circle cx="134.5" cy="135.7" r="1.9"/><circle cx="154.8" cy="128.5" r="1.9"/><circle cx="161.4" cy="128.5" r="1.9"/><circle cx="149" cy="126.3" r="1.9"/><circle cx="142.5" cy="135.7" r="1.9"/></g>
</g>
<rect x="55.8" y="12.5" width="206.2" height="147.7" fill="none" stroke="#222" stroke-width="1.1"/>
<path d="M55.8 160.2v2.6M55.8 160.2h-3M97 160.2v2.6M55.8 130.7h-3M138.3 160.2v2.6M55.8 101.1h-3M179.5 160.2v2.6M55.8 71.6h-3M220.8 160.2v2.6M55.8 42h-3M262 160.2v2.6M55.8 12.5h-3" stroke="#222" stroke-width="1"/>
<text class="t" x="55.8" y="177.2" font-size="10.8" text-anchor="middle">0.000</text>
<text class="t" x="48.8" y="163.7" font-size="10.8" text-anchor="end">0.000</text>
<text class="t" x="97" y="177.2" font-size="10.8" text-anchor="middle">0.005</text>
<text class="t" x="48.8" y="134.2" font-size="10.8" text-anchor="end">0.005</text>
<text class="t" x="138.3" y="177.2" font-size="10.8" text-anchor="middle">0.010</text>
<text class="t" x="48.8" y="104.6" font-size="10.8" text-anchor="end">0.010</text>
<text class="t" x="179.5" y="177.2" font-size="10.8" text-anchor="middle">0.015</text>
<text class="t" x="48.8" y="75.1" font-size="10.8" text-anchor="end">0.015</text>
<text class="t" x="220.8" y="177.2" font-size="10.8" text-anchor="middle">0.020</text>
<text class="t" x="48.8" y="45.5" font-size="10.8" text-anchor="end">0.020</text>
<text class="t" x="262" y="177.2" font-size="10.8" text-anchor="middle">0.025</text>
<text class="t" x="48.8" y="16" font-size="10.8" text-anchor="end">0.025</text>
<text class="t" x="158.9" y="199.4" font-size="11.7" text-anchor="middle">Observed Rrs (sr<tspan font-size="9.5" dy="-3.3">-1</tspan><tspan dy="3.3">)</tspan></text>
<text class="t" font-size="11.75" text-anchor="middle" transform="translate(17.3 86.6) rotate(-90)">Estimated Rrs (sr<tspan font-size="9.6" dy="-3.3">-1</tspan><tspan dy="3.3">)</tspan></text>
<text class="t" x="69.6" y="35" font-size="16">a</text>
<text class="t" x="92.6" y="22.2" font-size="8.0">Training</text>
<text class="t" x="91.3" y="34.3" font-size="8.0">R<tspan font-size="5" dy="-3">2</tspan><tspan dy="3"> : 0.73</tspan></text>
<text class="t" x="91.3" y="44" font-size="8.0">RMSE : 0.0019 sr<tspan font-size="5" dy="-3">-1</tspan></text>
<text class="t" x="167.3" y="21.5" font-size="8.0">Validation</text>
<text class="t" x="167.3" y="33" font-size="8.0">R<tspan font-size="5" dy="-3">2</tspan><tspan dy="3"> : 0.74</tspan></text>
<text class="t" x="167.3" y="43" font-size="8.0">RMSE : 0.0018 sr<tspan font-size="5" dy="-3">-1</tspan></text>
<text class="t" x="233.5" y="23.5" font-size="8.0">1:1 line</text>
<clipPath id="cpb"><rect x="327.3" y="12.5" width="207" height="147.8"/></clipPath>
<line x1="327.3" y1="160.3" x2="534.3" y2="12.5" stroke="#111" stroke-width=".8"/>
<g clip-path="url(#cpb)">
<polygon points="329.8,125.6 333.8,123.3 338.7,118.3 341.7,113.8 344.9,110.4 346.7,105.1 350.8,98.9 356.3,94 362.6,89.3 365.1,83.1 371.3,83 374.2,85 384,85.1 396,85.1 406.7,85 412.8,81.2 424.1,78.4 439.5,76.4 456.9,76.4 468.6,77.4 482.1,78.4 488.7,79.7 490,81.4 481.6,82.2 470.8,88.7 466.7,96.9 463.5,100 455.7,102 449.3,108.2 441.4,114.2 435.2,122.5 432,127.6 418.6,129.4 410.6,135.4 405.7,137.1 399.6,135.9 385.3,143.2 375.6,143.9 367.6,147.3 360.2,150 352.8,152 343.7,154 334.4,156 326.7,158.5 330.1,161" fill="#000"/>
<g class="k"><circle cx="454.4" cy="76.5" r="1.8"/><circle cx="462.4" cy="76.9" r="1.8"/><circle cx="457" cy="79.7" r="1.8"/><circle cx="467" cy="80.4" r="1.8"/><circle cx="473.3" cy="79.2" r="1.8"/><circle cx="481.1" cy="79.9" r="1.8"/><circle cx="468.5" cy="82.3" r="1.8"/><circle cx="475.6" cy="82.1" r="1.8"/><circle cx="481.9" cy="82.4" r="1.8"/><circle cx="369" cy="85.9" r="1.8"/><circle cx="382.5" cy="85.3" r="1.8"/><circle cx="415.4" cy="86.1" r="1.8"/><circle cx="436.8" cy="85.6" r="1.8"/><circle cx="467.1" cy="85.5" r="1.8"/><circle cx="413.7" cy="88.2" r="1.8"/><circle cx="417.6" cy="89.2" r="1.8"/><circle cx="455.4" cy="89.1" r="1.8"/><circle cx="464.6" cy="88.5" r="1.8"/><circle cx="416.1" cy="90.9" r="1.8"/><circle cx="449.6" cy="91.3" r="1.8"/><circle cx="457.1" cy="91.5" r="1.8"/><circle cx="390.7" cy="93.8" r="1.8"/><circle cx="408.1" cy="94.5" r="1.8"/><circle cx="427.9" cy="94.2" r="1.8"/><circle cx="388.2" cy="97.5" r="1.8"/><circle cx="391.7" cy="97.6" r="1.8"/><circle cx="409" cy="97.8" r="1.8"/><circle cx="467.2" cy="97.3" r="1.8"/><circle cx="396.9" cy="100.7" r="1.8"/><circle cx="452.2" cy="99.8" r="1.8"/><circle cx="385.1" cy="103.3" r="1.8"/><circle cx="387.6" cy="106.1" r="1.8"/><circle cx="388.4" cy="109.8" r="1.8"/><circle cx="401.7" cy="109.4" r="1.8"/><circle cx="442.8" cy="108.8" r="1.8"/><circle cx="343.3" cy="112.7" r="1.8"/><circle cx="359.2" cy="111.5" r="1.8"/><circle cx="410.8" cy="112.5" r="1.8"/><circle cx="444.4" cy="111.8" r="1.8"/><circle cx="412.2" cy="115" r="1.8"/><circle cx="389.9" cy="118.3" r="1.8"/><circle cx="407.5" cy="117.8" r="1.8"/><circle cx="372.1" cy="121.3" r="1.8"/><circle cx="388.5" cy="121.1" r="1.8"/><circle cx="391.9" cy="120.9" r="1.8"/><circle cx="336.4" cy="123.6" r="1.8"/><circle cx="390.4" cy="124.5" r="1.8"/><circle cx="435.1" cy="124.4" r="1.8"/><circle cx="354.7" cy="127.4" r="1.8"/><circle cx="405.1" cy="127.1" r="1.8"/><circle cx="413.1" cy="127.4" r="1.8"/><circle cx="426" cy="126.3" r="1.8"/><circle cx="429.1" cy="127.2" r="1.8"/><circle cx="393.6" cy="129.3" r="1.8"/><circle cx="400.1" cy="130.3" r="1.8"/><circle cx="407.4" cy="129.9" r="1.8"/><circle cx="417.3" cy="130" r="1.8"/><circle cx="333.9" cy="133.1" r="1.8"/><circle cx="348.1" cy="133.2" r="1.8"/><circle cx="358.7" cy="132.8" r="1.8"/><circle cx="389.1" cy="133.2" r="1.8"/><circle cx="395" cy="133.2" r="1.8"/><circle cx="387.7" cy="136.1" r="1.8"/><circle cx="379.1" cy="139.1" r="1.8"/><circle cx="359.1" cy="142" r="1.8"/><circle cx="374" cy="141.7" r="1.8"/><circle cx="376.4" cy="141.1" r="1.8"/><circle cx="371.8" cy="144" r="1.8"/><circle cx="385.3" cy="144.2" r="1.8"/><circle cx="335" cy="150.3" r="1.8"/><circle cx="340.7" cy="150.2" r="1.8"/><circle cx="342.6" cy="153.3" r="1.8"/></g>
<g class="w"><circle cx="428.3" cy="77.1" r="1.55"/><circle cx="431.8" cy="76.5" r="1.55"/><circle cx="435.1" cy="77.2" r="1.55"/><circle cx="437.7" cy="76.8" r="1.55"/><circle cx="441.3" cy="76.1" r="1.55"/><circle cx="444.2" cy="77.2" r="1.55"/><circle cx="448.7" cy="76.3" r="1.55"/><circle cx="451.7" cy="77.3" r="1.55"/><circle cx="458.9" cy="76.9" r="1.55"/><circle cx="465.6" cy="76.9" r="1.55"/><circle cx="469.1" cy="76.4" r="1.55"/><circle cx="471.5" cy="77.3" r="1.55"/><circle cx="419" cy="80" r="1.55"/><circle cx="423" cy="79.8" r="1.55"/><circle cx="426" cy="79.3" r="1.55"/><circle cx="428.9" cy="79.7" r="1.55"/><circle cx="433.1" cy="80" r="1.55"/><circle cx="435.9" cy="79.1" r="1.55"/><circle cx="439.4" cy="79.1" r="1.55"/><circle cx="442.7" cy="79.8" r="1.55"/><circle cx="446.7" cy="79.4" r="1.55"/><circle cx="450.6" cy="79.1" r="1.55"/><circle cx="453" cy="80.2" r="1.55"/><circle cx="459.9" cy="80" r="1.55"/><circle cx="486.6" cy="79.8" r="1.55"/><circle cx="369.4" cy="82.6" r="1.55"/><circle cx="410.4" cy="82.3" r="1.55"/><circle cx="414.6" cy="83" r="1.55"/><circle cx="417.4" cy="82" r="1.55"/><circle cx="421.4" cy="82" r="1.55"/><circle cx="424.8" cy="82.6" r="1.55"/><circle cx="428.1" cy="82.2" r="1.55"/><circle cx="431.1" cy="83.2" r="1.55"/><circle cx="434" cy="82.7" r="1.55"/><circle cx="438.6" cy="82.8" r="1.55"/><circle cx="441.4" cy="83.3" r="1.55"/><circle cx="445.1" cy="83" r="1.55"/><circle cx="448.6" cy="83" r="1.55"/><circle cx="451.3" cy="82" r="1.55"/><circle cx="454.4" cy="82.7" r="1.55"/><circle cx="458.7" cy="82.2" r="1.55"/><circle cx="461.7" cy="82.3" r="1.55"/><circle cx="464.8" cy="82.3" r="1.55"/><circle cx="364.2" cy="85.1" r="1.55"/><circle cx="372.1" cy="86" r="1.55"/><circle cx="374.5" cy="86" r="1.55"/><circle cx="378.1" cy="85.2" r="1.55"/><circle cx="384.8" cy="86" r="1.55"/><circle cx="388.6" cy="86" r="1.55"/><circle cx="399" cy="85.5" r="1.55"/><circle cx="401.9" cy="86.1" r="1.55"/><circle cx="405.9" cy="85.2" r="1.55"/><circle cx="408.6" cy="86" r="1.55"/><circle cx="411.9" cy="85.2" r="1.55"/><circle cx="418.7" cy="85.3" r="1.55"/><circle cx="422.8" cy="86.1" r="1.55"/><circle cx="426.4" cy="85.7" r="1.55"/><circle cx="430.1" cy="85.5" r="1.55"/><circle cx="433.5" cy="86" r="1.55"/><circle cx="439.4" cy="85.2" r="1.55"/><circle cx="443.4" cy="85.1" r="1.55"/><circle cx="446.3" cy="85.7" r="1.55"/><circle cx="450.6" cy="85.7" r="1.55"/><circle cx="453.5" cy="85.1" r="1.55"/><circle cx="456" cy="85.5" r="1.55"/><circle cx="460.2" cy="84.9" r="1.55"/><circle cx="363.6" cy="88.3" r="1.55"/><circle cx="366.6" cy="88.8" r="1.55"/><circle cx="370.3" cy="88.1" r="1.55"/><circle cx="372.8" cy="88.1" r="1.55"/><circle cx="377.4" cy="87.9" r="1.55"/><circle cx="379.7" cy="88.3" r="1.55"/><circle cx="383.5" cy="89.2" r="1.55"/><circle cx="386.7" cy="88" r="1.55"/><circle cx="389.9" cy="88.7" r="1.55"/><circle cx="394.1" cy="88.3" r="1.55"/><circle cx="396.6" cy="88.8" r="1.55"/><circle cx="400.2" cy="87.9" r="1.55"/><circle cx="403.5" cy="87.9" r="1.55"/><circle cx="407.3" cy="88" r="1.55"/><circle cx="411.2" cy="88.5" r="1.55"/><circle cx="421.7" cy="89.2" r="1.55"/><circle cx="424.2" cy="88.1" r="1.55"/><circle cx="428.2" cy="88.9" r="1.55"/><circle cx="430.7" cy="88.3" r="1.55"/><circle cx="434.1" cy="87.9" r="1.55"/><circle cx="438.3" cy="88.1" r="1.55"/><circle cx="441.5" cy="88.6" r="1.55"/><circle cx="444.4" cy="88" r="1.55"/><circle cx="448.5" cy="89" r="1.55"/><circle cx="451.2" cy="88.5" r="1.55"/><circle cx="457.9" cy="88.6" r="1.55"/><circle cx="468.2" cy="88.4" r="1.55"/><circle cx="358.7" cy="92" r="1.55"/><circle cx="361.2" cy="92" r="1.55"/><circle cx="365.2" cy="90.9" r="1.55"/><circle cx="368.9" cy="91" r="1.55"/><circle cx="371" cy="91.3" r="1.55"/><circle cx="375" cy="92.1" r="1.55"/><circle cx="378.3" cy="91.3" r="1.55"/><circle cx="382.2" cy="90.9" r="1.55"/><circle cx="385.3" cy="90.9" r="1.55"/><circle cx="388.4" cy="91.5" r="1.55"/><circle cx="391.7" cy="91.3" r="1.55"/><circle cx="396" cy="91.6" r="1.55"/><circle cx="399" cy="91.1" r="1.55"/><circle cx="402.7" cy="91.6" r="1.55"/><circle cx="406" cy="91.9" r="1.55"/><circle cx="408.9" cy="92.1" r="1.55"/><circle cx="412.7" cy="91" r="1.55"/><circle cx="418.8" cy="90.8" r="1.55"/><circle cx="423.3" cy="91.1" r="1.55"/><circle cx="425.4" cy="92.2" r="1.55"/><circle cx="429.1" cy="91.5" r="1.55"/><circle cx="432.7" cy="91.1" r="1.55"/><circle cx="435.8" cy="91.8" r="1.55"/><circle cx="439.2" cy="92" r="1.55"/><circle cx="443.5" cy="90.8" r="1.55"/><circle cx="446.3" cy="92" r="1.55"/><circle cx="452.7" cy="91.5" r="1.55"/><circle cx="459.5" cy="91" r="1.55"/><circle cx="355.9" cy="94.8" r="1.55"/><circle cx="359.2" cy="95" r="1.55"/><circle cx="363.8" cy="93.7" r="1.55"/><circle cx="366.8" cy="94" r="1.55"/><circle cx="369.4" cy="94.9" r="1.55"/><circle cx="373.3" cy="94" r="1.55"/><circle cx="376.4" cy="94.2" r="1.55"/><circle cx="380.4" cy="94.6" r="1.55"/><circle cx="383.1" cy="94.2" r="1.55"/><circle cx="387.6" cy="93.7" r="1.55"/><circle cx="394.1" cy="94.7" r="1.55"/><circle cx="396.9" cy="94.7" r="1.55"/><circle cx="400" cy="94" r="1.55"/><circle cx="413.9" cy="94.1" r="1.55"/><circle cx="418.2" cy="94.6" r="1.55"/><circle cx="421" cy="94.6" r="1.55"/><circle cx="424.9" cy="94.2" r="1.55"/><circle cx="431.6" cy="94.9" r="1.55"/><circle cx="435.2" cy="94" r="1.55"/><circle cx="437.7" cy="95" r="1.55"/><circle cx="441.4" cy="93.9" r="1.55"/><circle cx="444.5" cy="93.8" r="1.55"/><circle cx="447.6" cy="94.3" r="1.55"/><circle cx="452" cy="94.4" r="1.55"/><circle cx="454.8" cy="94.4" r="1.55"/><circle cx="458.6" cy="94.8" r="1.55"/><circle cx="351.9" cy="97.6" r="1.55"/><circle cx="354.2" cy="97.6" r="1.55"/><circle cx="357.5" cy="98" r="1.55"/><circle cx="361.4" cy="97.3" r="1.55"/><circle cx="365.4" cy="97.7" r="1.55"/><circle cx="368.2" cy="97.8" r="1.55"/><circle cx="371.2" cy="96.9" r="1.55"/><circle cx="375.7" cy="97.1" r="1.55"/><circle cx="378.7" cy="97.3" r="1.55"/><circle cx="381.6" cy="96.8" r="1.55"/><circle cx="385.6" cy="97.8" r="1.55"/><circle cx="395.5" cy="96.8" r="1.55"/><circle cx="399.6" cy="97.9" r="1.55"/><circle cx="402.2" cy="97.9" r="1.55"/><circle cx="405.9" cy="96.8" r="1.55"/><circle cx="413.2" cy="97.5" r="1.55"/><circle cx="416" cy="98" r="1.55"/><circle cx="422.1" cy="97.8" r="1.55"/><circle cx="426.8" cy="96.9" r="1.55"/><circle cx="429.2" cy="97" r="1.55"/><circle cx="433.3" cy="97.8" r="1.55"/><circle cx="435.7" cy="97.5" r="1.55"/><circle cx="440.3" cy="96.9" r="1.55"/><circle cx="442.7" cy="97" r="1.55"/><circle cx="447" cy="97" r="1.55"/><circle cx="449.5" cy="96.7" r="1.55"/><circle cx="456.3" cy="97.9" r="1.55"/><circle cx="464" cy="96.8" r="1.55"/><circle cx="350.3" cy="100.3" r="1.55"/><circle cx="352.5" cy="100.6" r="1.55"/><circle cx="357" cy="100.2" r="1.55"/><circle cx="359.1" cy="100" r="1.55"/><circle cx="363.2" cy="99.8" r="1.55"/><circle cx="366.2" cy="100.7" r="1.55"/><circle cx="370.5" cy="100.2" r="1.55"/><circle cx="373.6" cy="100.9" r="1.55"/><circle cx="376.3" cy="100.1" r="1.55"/><circle cx="379.5" cy="100" r="1.55"/><circle cx="383.4" cy="100.6" r="1.55"/><circle cx="387" cy="99.9" r="1.55"/><circle cx="393.2" cy="99.7" r="1.55"/><circle cx="400.9" cy="99.8" r="1.55"/><circle cx="403.4" cy="100.5" r="1.55"/><circle cx="408.1" cy="100" r="1.55"/><circle cx="411.2" cy="100.9" r="1.55"/><circle cx="414.5" cy="100.5" r="1.55"/><circle cx="417.8" cy="100.6" r="1.55"/><circle cx="427.7" cy="99.7" r="1.55"/><circle cx="431.8" cy="100.1" r="1.55"/><circle cx="434.2" cy="100.3" r="1.55"/><circle cx="438.3" cy="100.1" r="1.55"/><circle cx="441.4" cy="100.4" r="1.55"/><circle cx="445.3" cy="100.4" r="1.55"/><circle cx="448.4" cy="100" r="1.55"/><circle cx="458.2" cy="100.4" r="1.55"/><circle cx="348.6" cy="103.2" r="1.55"/><circle cx="351.4" cy="103" r="1.55"/><circle cx="355.4" cy="103.3" r="1.55"/><circle cx="358.8" cy="103.3" r="1.55"/><circle cx="361.7" cy="103" r="1.55"/><circle cx="364.3" cy="102.7" r="1.55"/><circle cx="368.2" cy="103.3" r="1.55"/><circle cx="371.3" cy="103.7" r="1.55"/><circle cx="375.6" cy="103.5" r="1.55"/><circle cx="378.2" cy="103.3" r="1.55"/><circle cx="381.2" cy="103.2" r="1.55"/><circle cx="391.5" cy="103.3" r="1.55"/><circle cx="398.6" cy="103.7" r="1.55"/><circle cx="402" cy="103" r="1.55"/><circle cx="405.3" cy="103.8" r="1.55"/><circle cx="409.1" cy="103.4" r="1.55"/><circle cx="412.6" cy="102.9" r="1.55"/><circle cx="415.8" cy="103.2" r="1.55"/><circle cx="423.1" cy="102.7" r="1.55"/><circle cx="426.2" cy="102.7" r="1.55"/><circle cx="429.9" cy="102.6" r="1.55"/><circle cx="432.6" cy="103.5" r="1.55"/><circle cx="436.1" cy="103.5" r="1.55"/><circle cx="440.3" cy="103.1" r="1.55"/><circle cx="442.6" cy="103.5" r="1.55"/><circle cx="446.2" cy="103.7" r="1.55"/><circle cx="453.3" cy="103.1" r="1.55"/><circle cx="346.3" cy="105.7" r="1.55"/><circle cx="349" cy="106.7" r="1.55"/><circle cx="353" cy="106.2" r="1.55"/><circle cx="356.9" cy="106.2" r="1.55"/><circle cx="359.3" cy="106.3" r="1.55"/><circle cx="363.9" cy="106.6" r="1.55"/><circle cx="367.3" cy="105.9" r="1.55"/><circle cx="369.4" cy="105.8" r="1.55"/><circle cx="374" cy="106.8" r="1.55"/><circle cx="376.4" cy="106.1" r="1.55"/><circle cx="380.1" cy="106.4" r="1.55"/><circle cx="393.7" cy="106.1" r="1.55"/><circle cx="397.4" cy="105.6" r="1.55"/><circle cx="400.5" cy="105.8" r="1.55"/><circle cx="403.4" cy="106.3" r="1.55"/><circle cx="406.7" cy="106.7" r="1.55"/><circle cx="411.2" cy="106.3" r="1.55"/><circle cx="418.1" cy="106.2" r="1.55"/><circle cx="420.5" cy="106" r="1.55"/><circle cx="425" cy="106.1" r="1.55"/><circle cx="427.6" cy="105.7" r="1.55"/><circle cx="430.6" cy="106.9" r="1.55"/><circle cx="435" cy="106.4" r="1.55"/><circle cx="437.8" cy="106.1" r="1.55"/><circle cx="441" cy="105.9" r="1.55"/><circle cx="445.1" cy="105.6" r="1.55"/><circle cx="448.2" cy="106.2" r="1.55"/><circle cx="344.5" cy="108.6" r="1.55"/><circle cx="347.5" cy="108.6" r="1.55"/><circle cx="350.7" cy="109" r="1.55"/><circle cx="354.5" cy="109.3" r="1.55"/><circle cx="358" cy="108.5" r="1.55"/><circle cx="362" cy="108.4" r="1.55"/><circle cx="364.3" cy="109.5" r="1.55"/><circle cx="368.2" cy="108.7" r="1.55"/><circle cx="372.4" cy="108.5" r="1.55"/><circle cx="375.6" cy="109.6" r="1.55"/><circle cx="379" cy="109.1" r="1.55"/><circle cx="381.9" cy="109" r="1.55"/><circle cx="384.7" cy="109" r="1.55"/><circle cx="392.3" cy="109" r="1.55"/><circle cx="396.1" cy="109.1" r="1.55"/><circle cx="398.9" cy="108.6" r="1.55"/><circle cx="405.7" cy="109" r="1.55"/><circle cx="409.1" cy="108.5" r="1.55"/><circle cx="412.8" cy="109.1" r="1.55"/><circle cx="416.3" cy="109.6" r="1.55"/><circle cx="419" cy="109.3" r="1.55"/><circle cx="422.6" cy="109.3" r="1.55"/><circle cx="426.3" cy="108.4" r="1.55"/><circle cx="429.5" cy="109.7" r="1.55"/><circle cx="432.7" cy="109.1" r="1.55"/><circle cx="435.7" cy="109.3" r="1.55"/><circle cx="439.8" cy="108.5" r="1.55"/><circle cx="447" cy="109" r="1.55"/><circle cx="345.7" cy="112" r="1.55"/><circle cx="350.1" cy="112.7" r="1.55"/><circle cx="352.7" cy="111.9" r="1.55"/><circle cx="356.4" cy="112.5" r="1.55"/><circle cx="363.7" cy="111.4" r="1.55"/><circle cx="367.1" cy="112.3" r="1.55"/><circle cx="370.3" cy="111.8" r="1.55"/><circle cx="372.8" cy="111.9" r="1.55"/><circle cx="377.4" cy="112.1" r="1.55"/><circle cx="379.6" cy="112.6" r="1.55"/><circle cx="384.1" cy="112" r="1.55"/><circle cx="387.4" cy="112.1" r="1.55"/><circle cx="390.9" cy="111.5" r="1.55"/><circle cx="396.9" cy="112.6" r="1.55"/><circle cx="400" cy="112.7" r="1.55"/><circle cx="403.7" cy="112.6" r="1.55"/><circle cx="407" cy="112" r="1.55"/><circle cx="414.9" cy="112.7" r="1.55"/><circle cx="417.1" cy="111.6" r="1.55"/><circle cx="421.3" cy="111.9" r="1.55"/><circle cx="423.9" cy="112.3" r="1.55"/><circle cx="427.7" cy="112.5" r="1.55"/><circle cx="431.3" cy="111.6" r="1.55"/><circle cx="434.8" cy="111.9" r="1.55"/><circle cx="437.5" cy="112.3" r="1.55"/><circle cx="344.4" cy="114.6" r="1.55"/><circle cx="348.4" cy="115.4" r="1.55"/><circle cx="351" cy="115.2" r="1.55"/><circle cx="354.1" cy="114.5" r="1.55"/><circle cx="357.5" cy="114.9" r="1.55"/><circle cx="361.4" cy="115" r="1.55"/><circle cx="364.8" cy="114.6" r="1.55"/><circle cx="368.6" cy="115.2" r="1.55"/><circle cx="371.7" cy="114.6" r="1.55"/><circle cx="374.4" cy="115.6" r="1.55"/><circle cx="379" cy="115.7" r="1.55"/><circle cx="381.7" cy="115.2" r="1.55"/><circle cx="385.4" cy="115.3" r="1.55"/><circle cx="388.1" cy="114.9" r="1.55"/><circle cx="391.6" cy="114.9" r="1.55"/><circle cx="399.4" cy="114.7" r="1.55"/><circle cx="402.8" cy="115.4" r="1.55"/><circle cx="405.8" cy="115.2" r="1.55"/><circle cx="409.3" cy="114.6" r="1.55"/><circle cx="415.2" cy="115.3" r="1.55"/><circle cx="419.7" cy="114.7" r="1.55"/><circle cx="422.8" cy="115" r="1.55"/><circle cx="426.6" cy="115.5" r="1.55"/><circle cx="429.4" cy="114.3" r="1.55"/><circle cx="433.6" cy="115.3" r="1.55"/><circle cx="436.6" cy="115.3" r="1.55"/><circle cx="439.1" cy="115.2" r="1.55"/><circle cx="342.7" cy="117.4" r="1.55"/><circle cx="346.5" cy="117.5" r="1.55"/><circle cx="349.2" cy="117.4" r="1.55"/><circle cx="352.5" cy="118" r="1.55"/><circle cx="356.7" cy="117.8" r="1.55"/><circle cx="359.3" cy="117.7" r="1.55"/><circle cx="366" cy="117.7" r="1.55"/><circle cx="370.5" cy="117.8" r="1.55"/><circle cx="373.7" cy="117.8" r="1.55"/><circle cx="377.5" cy="117.6" r="1.55"/><circle cx="380.2" cy="117.5" r="1.55"/><circle cx="384" cy="118.6" r="1.55"/><circle cx="394.2" cy="118.3" r="1.55"/><circle cx="396.6" cy="117.7" r="1.55"/><circle cx="400.4" cy="117.6" r="1.55"/><circle cx="403.6" cy="118.4" r="1.55"/><circle cx="411" cy="117.7" r="1.55"/><circle cx="413.5" cy="118.2" r="1.55"/><circle cx="417.5" cy="118.2" r="1.55"/><circle cx="420.8" cy="118" r="1.55"/><circle cx="424.5" cy="117.6" r="1.55"/><circle cx="427.4" cy="118.2" r="1.55"/><circle cx="431.3" cy="117.9" r="1.55"/><circle cx="434.4" cy="118.2" r="1.55"/><circle cx="438.6" cy="117.4" r="1.55"/><circle cx="337.6" cy="120.6" r="1.55"/><circle cx="340.9" cy="121" r="1.55"/><circle cx="345.1" cy="120.6" r="1.55"/><circle cx="348.3" cy="120.8" r="1.55"/><circle cx="351.5" cy="120.8" r="1.55"/><circle cx="355.2" cy="121.3" r="1.55"/><circle cx="358.4" cy="121.5" r="1.55"/><circle cx="361.3" cy="121.1" r="1.55"/><circle cx="365.6" cy="121.2" r="1.55"/><circle cx="367.9" cy="120.5" r="1.55"/><circle cx="374.8" cy="120.7" r="1.55"/><circle cx="378.8" cy="121.1" r="1.55"/><circle cx="395.4" cy="120.3" r="1.55"/><circle cx="399.5" cy="120.9" r="1.55"/><circle cx="402.1" cy="120.9" r="1.55"/><circle cx="406.1" cy="120.3" r="1.55"/><circle cx="409" cy="121.1" r="1.55"/><circle cx="412.2" cy="120.5" r="1.55"/><circle cx="415.9" cy="121.5" r="1.55"/><circle cx="418.9" cy="120.6" r="1.55"/><circle cx="423" cy="120.5" r="1.55"/><circle cx="425.7" cy="120.6" r="1.55"/><circle cx="429.1" cy="120.9" r="1.55"/><circle cx="338.9" cy="123.4" r="1.55"/><circle cx="342.9" cy="124.1" r="1.55"/><circle cx="346" cy="123.3" r="1.55"/><circle cx="349" cy="123.9" r="1.55"/><circle cx="352.7" cy="124" r="1.55"/><circle cx="356.8" cy="123.8" r="1.55"/><circle cx="359.5" cy="123.6" r="1.55"/><circle cx="363.6" cy="124.3" r="1.55"/><circle cx="366.2" cy="123.4" r="1.55"/><circle cx="369.6" cy="123.6" r="1.55"/><circle cx="373.5" cy="123.4" r="1.55"/><circle cx="377.1" cy="123.2" r="1.55"/><circle cx="380.4" cy="123.9" r="1.55"/><circle cx="384.1" cy="123.2" r="1.55"/><circle cx="394" cy="123.5" r="1.55"/><circle cx="397.8" cy="123.7" r="1.55"/><circle cx="400.7" cy="123.9" r="1.55"/><circle cx="403.7" cy="123.8" r="1.55"/><circle cx="407" cy="124.4" r="1.55"/><circle cx="410.4" cy="123.2" r="1.55"/><circle cx="420.8" cy="124.4" r="1.55"/><circle cx="431.2" cy="124" r="1.55"/><circle cx="330.4" cy="127.1" r="1.55"/><circle cx="334.2" cy="126.8" r="1.55"/><circle cx="337.1" cy="126.9" r="1.55"/><circle cx="340.7" cy="126.6" r="1.55"/><circle cx="345.1" cy="127.1" r="1.55"/><circle cx="347.8" cy="126.3" r="1.55"/><circle cx="351.6" cy="126.6" r="1.55"/><circle cx="358.2" cy="126.3" r="1.55"/><circle cx="361.8" cy="126.2" r="1.55"/><circle cx="364.6" cy="126.1" r="1.55"/><circle cx="368.4" cy="126.7" r="1.55"/><circle cx="371.1" cy="126.6" r="1.55"/><circle cx="375.3" cy="126.2" r="1.55"/><circle cx="378.1" cy="126.8" r="1.55"/><circle cx="381.9" cy="126.3" r="1.55"/><circle cx="385" cy="126.5" r="1.55"/><circle cx="388.9" cy="126.7" r="1.55"/><circle cx="391.9" cy="126.3" r="1.55"/><circle cx="395.5" cy="126.3" r="1.55"/><circle cx="398.4" cy="126.2" r="1.55"/><circle cx="402.4" cy="126.3" r="1.55"/><circle cx="409.6" cy="127" r="1.55"/><circle cx="415.5" cy="127" r="1.55"/><circle cx="419.2" cy="127.3" r="1.55"/><circle cx="423.2" cy="127.4" r="1.55"/><circle cx="333.2" cy="129.3" r="1.55"/><circle cx="336" cy="130.2" r="1.55"/><circle cx="342.4" cy="130.3" r="1.55"/><circle cx="346.3" cy="129.3" r="1.55"/><circle cx="350.3" cy="129.4" r="1.55"/><circle cx="353.6" cy="130" r="1.55"/><circle cx="356.3" cy="130.1" r="1.55"/><circle cx="359.5" cy="130" r="1.55"/><circle cx="362.8" cy="129.9" r="1.55"/><circle cx="366.7" cy="129.7" r="1.55"/><circle cx="370.5" cy="130.1" r="1.55"/><circle cx="372.9" cy="130.2" r="1.55"/><circle cx="376.5" cy="130.2" r="1.55"/><circle cx="380.9" cy="129.3" r="1.55"/><circle cx="383.4" cy="129.1" r="1.55"/><circle cx="387.5" cy="129.9" r="1.55"/><circle cx="389.9" cy="130.3" r="1.55"/><circle cx="397.9" cy="130.2" r="1.55"/><circle cx="404.7" cy="130.2" r="1.55"/><circle cx="410.3" cy="129.9" r="1.55"/><circle cx="421.3" cy="129.3" r="1.55"/><circle cx="330.6" cy="132.8" r="1.55"/><circle cx="337.1" cy="132.5" r="1.55"/><circle cx="344.3" cy="132.4" r="1.55"/><circle cx="351.9" cy="132.7" r="1.55"/><circle cx="354.4" cy="132.8" r="1.55"/><circle cx="360.8" cy="132.5" r="1.55"/><circle cx="364.9" cy="132.2" r="1.55"/><circle cx="368.9" cy="132.6" r="1.55"/><circle cx="371.8" cy="132.2" r="1.55"/><circle cx="374.9" cy="132.1" r="1.55"/><circle cx="378.7" cy="133.2" r="1.55"/><circle cx="384.9" cy="132.4" r="1.55"/><circle cx="392.8" cy="132.7" r="1.55"/><circle cx="399.1" cy="132.7" r="1.55"/><circle cx="402" cy="132.2" r="1.55"/><circle cx="408.7" cy="132.4" r="1.55"/><circle cx="333.1" cy="135.8" r="1.55"/><circle cx="336.3" cy="135.9" r="1.55"/><circle cx="339.3" cy="135" r="1.55"/><circle cx="343.4" cy="135.3" r="1.55"/><circle cx="346.8" cy="135.2" r="1.55"/><circle cx="350.2" cy="135.7" r="1.55"/><circle cx="352.5" cy="135.3" r="1.55"/><circle cx="356.7" cy="136.3" r="1.55"/><circle cx="359.7" cy="135.8" r="1.55"/><circle cx="363.7" cy="134.9" r="1.55"/><circle cx="366.2" cy="135.2" r="1.55"/><circle cx="370.3" cy="136" r="1.55"/><circle cx="374" cy="135.5" r="1.55"/><circle cx="377.3" cy="135.1" r="1.55"/><circle cx="380.7" cy="136.1" r="1.55"/><circle cx="389.7" cy="136.1" r="1.55"/><circle cx="393.4" cy="135.4" r="1.55"/><circle cx="407.6" cy="135.1" r="1.55"/><circle cx="331.3" cy="138.4" r="1.55"/><circle cx="334.6" cy="138.9" r="1.55"/><circle cx="337.8" cy="138.8" r="1.55"/><circle cx="340.6" cy="138.5" r="1.55"/><circle cx="345" cy="138.4" r="1.55"/><circle cx="347.3" cy="139.2" r="1.55"/><circle cx="351.1" cy="138.8" r="1.55"/><circle cx="354.7" cy="137.9" r="1.55"/><circle cx="358.4" cy="139.2" r="1.55"/><circle cx="362" cy="138.2" r="1.55"/><circle cx="364.7" cy="138.7" r="1.55"/><circle cx="368.4" cy="138.3" r="1.55"/><circle cx="371.8" cy="139.2" r="1.55"/><circle cx="374.9" cy="138.9" r="1.55"/><circle cx="389.1" cy="137.9" r="1.55"/><circle cx="333.1" cy="141.3" r="1.55"/><circle cx="335.9" cy="142" r="1.55"/><circle cx="343.1" cy="142" r="1.55"/><circle cx="346.3" cy="141" r="1.55"/><circle cx="349.5" cy="141.7" r="1.55"/><circle cx="362.9" cy="140.9" r="1.55"/><circle cx="366.3" cy="141.2" r="1.55"/><circle cx="369.4" cy="141.5" r="1.55"/><circle cx="379.6" cy="141.6" r="1.55"/><circle cx="330.5" cy="145.1" r="1.55"/><circle cx="333.9" cy="145" r="1.55"/><circle cx="341.4" cy="144.9" r="1.55"/><circle cx="343.9" cy="144.7" r="1.55"/><circle cx="347.2" cy="144.8" r="1.55"/><circle cx="351.9" cy="143.8" r="1.55"/><circle cx="355.3" cy="145.1" r="1.55"/><circle cx="358.6" cy="144.8" r="1.55"/><circle cx="361.3" cy="144.9" r="1.55"/><circle cx="364.2" cy="144.7" r="1.55"/><circle cx="368.5" cy="144.4" r="1.55"/><circle cx="378.5" cy="144.6" r="1.55"/><circle cx="329.7" cy="146.8" r="1.55"/><circle cx="332.9" cy="146.8" r="1.55"/><circle cx="335.4" cy="146.9" r="1.55"/><circle cx="339.9" cy="147.5" r="1.55"/><circle cx="343" cy="147.3" r="1.55"/><circle cx="345.8" cy="147.2" r="1.55"/><circle cx="349.8" cy="147.2" r="1.55"/><circle cx="352.9" cy="148.1" r="1.55"/><circle cx="356.3" cy="148.1" r="1.55"/><circle cx="359.8" cy="147.9" r="1.55"/><circle cx="362.8" cy="147" r="1.55"/><circle cx="366.3" cy="148" r="1.55"/><circle cx="344.5" cy="150.6" r="1.55"/><circle cx="347.6" cy="150.6" r="1.55"/><circle cx="352" cy="149.7" r="1.55"/><circle cx="355.3" cy="149.7" r="1.55"/><circle cx="358.3" cy="150.5" r="1.55"/><circle cx="333.3" cy="153.4" r="1.55"/><circle cx="339.3" cy="153.3" r="1.55"/><circle cx="345.8" cy="153.3" r="1.55"/><circle cx="349.2" cy="153.3" r="1.55"/><circle cx="331.3" cy="156.9" r="1.55"/><circle cx="334.3" cy="155.7" r="1.55"/></g>
<g class="k"><circle cx="475" cy="77.2" r="1.8"/><circle cx="463.5" cy="79.2" r="1.8"/><circle cx="470.9" cy="79.3" r="1.8"/><circle cx="477.2" cy="80" r="1.8"/><circle cx="483.7" cy="80.4" r="1.8"/><circle cx="366.3" cy="82.7" r="1.8"/><circle cx="472" cy="82.9" r="1.8"/><circle cx="478.7" cy="82.7" r="1.8"/><circle cx="391.6" cy="85.5" r="1.8"/><circle cx="395.1" cy="85.1" r="1.8"/><circle cx="463.2" cy="85" r="1.8"/><circle cx="470.1" cy="85.5" r="1.8"/><circle cx="474" cy="86.1" r="1.8"/><circle cx="477.2" cy="85.6" r="1.8"/><circle cx="461.8" cy="89" r="1.8"/><circle cx="463.1" cy="91.9" r="1.8"/><circle cx="466.9" cy="91.7" r="1.8"/><circle cx="404.6" cy="94.6" r="1.8"/><circle cx="410.1" cy="93.8" r="1.8"/><circle cx="462.2" cy="94.7" r="1.8"/><circle cx="465.1" cy="93.9" r="1.8"/><circle cx="468.6" cy="95" r="1.8"/><circle cx="418.8" cy="97.1" r="1.8"/><circle cx="453.9" cy="97" r="1.8"/><circle cx="460" cy="97.7" r="1.8"/><circle cx="389.8" cy="99.7" r="1.8"/><circle cx="421.6" cy="99.8" r="1.8"/><circle cx="424.3" cy="100.3" r="1.8"/><circle cx="454.8" cy="100.5" r="1.8"/><circle cx="461.3" cy="99.8" r="1.8"/><circle cx="388.9" cy="103.3" r="1.8"/><circle cx="395.3" cy="103.1" r="1.8"/><circle cx="419.9" cy="103.7" r="1.8"/><circle cx="449.5" cy="103.4" r="1.8"/><circle cx="384" cy="105.6" r="1.8"/><circle cx="390" cy="106.3" r="1.8"/><circle cx="414.4" cy="106.3" r="1.8"/><circle cx="451" cy="105.8" r="1.8"/><circle cx="394.3" cy="111.6" r="1.8"/><circle cx="440.7" cy="112.6" r="1.8"/><circle cx="340.6" cy="114.9" r="1.8"/><circle cx="395" cy="114.8" r="1.8"/><circle cx="339.1" cy="118.5" r="1.8"/><circle cx="363.1" cy="117.4" r="1.8"/><circle cx="387.6" cy="118.3" r="1.8"/><circle cx="381.6" cy="120.9" r="1.8"/><circle cx="385.9" cy="120.4" r="1.8"/><circle cx="432.4" cy="121.2" r="1.8"/><circle cx="436.3" cy="121.4" r="1.8"/><circle cx="333.3" cy="123.5" r="1.8"/><circle cx="386.5" cy="123.9" r="1.8"/><circle cx="414.4" cy="124.1" r="1.8"/><circle cx="417.3" cy="123.8" r="1.8"/><circle cx="424.3" cy="124.1" r="1.8"/><circle cx="427.8" cy="124.5" r="1.8"/><circle cx="433.3" cy="126.6" r="1.8"/><circle cx="339.3" cy="129.5" r="1.8"/><circle cx="414.9" cy="130.1" r="1.8"/><circle cx="425" cy="129.2" r="1.8"/><circle cx="341.2" cy="132.9" r="1.8"/><circle cx="381.2" cy="132.1" r="1.8"/><circle cx="405.6" cy="132.6" r="1.8"/><circle cx="412" cy="132.4" r="1.8"/><circle cx="415.5" cy="132.5" r="1.8"/><circle cx="384" cy="135.7" r="1.8"/><circle cx="397.3" cy="136" r="1.8"/><circle cx="401.2" cy="135" r="1.8"/><circle cx="403.9" cy="135.1" r="1.8"/><circle cx="410.9" cy="135.9" r="1.8"/><circle cx="381.7" cy="138.9" r="1.8"/><circle cx="385.7" cy="138.1" r="1.8"/><circle cx="392.6" cy="139.1" r="1.8"/><circle cx="395.4" cy="139.3" r="1.8"/><circle cx="339.1" cy="141.1" r="1.8"/><circle cx="353.3" cy="141.8" r="1.8"/><circle cx="356.7" cy="142.2" r="1.8"/><circle cx="383.1" cy="141.4" r="1.8"/><circle cx="387.7" cy="142.1" r="1.8"/><circle cx="390.8" cy="141.5" r="1.8"/><circle cx="338.3" cy="145.1" r="1.8"/><circle cx="375.6" cy="144.8" r="1.8"/><circle cx="331.3" cy="150.6" r="1.8"/><circle cx="338.3" cy="149.9" r="1.8"/><circle cx="329.5" cy="152.8" r="1.8"/><circle cx="336.6" cy="153" r="1.8"/></g>
<g class="k"><circle cx="407.9" cy="82.1" r="1.8"/><circle cx="411.5" cy="79.4" r="1.8"/><circle cx="412.2" cy="79.1" r="1.8"/><circle cx="418.1" cy="78" r="1.8"/><circle cx="420.3" cy="76.8" r="1.8"/><circle cx="423.4" cy="76.3" r="1.8"/><circle cx="426.7" cy="75.6" r="1.8"/><circle cx="429.7" cy="76" r="1.8"/><circle cx="432.8" cy="75.2" r="1.8"/><circle cx="435.7" cy="75.3" r="1.8"/><circle cx="439.1" cy="74.2" r="1.8"/><circle cx="438.8" cy="74.4" r="1.8"/><circle cx="443.4" cy="74.9" r="1.8"/><circle cx="450.4" cy="75.1" r="1.8"/><circle cx="453.2" cy="74.5" r="1.8"/><circle cx="465.3" cy="75.2" r="1.8"/><circle cx="468.6" cy="75.3" r="1.8"/><circle cx="476.1" cy="76.3" r="1.8"/><circle cx="478.7" cy="75.8" r="1.8"/><circle cx="482.2" cy="76.6" r="1.8"/><circle cx="482.2" cy="76.7" r="1.8"/><circle cx="490.5" cy="79" r="1.8"/></g>
<g class="k"><circle cx="461.4" cy="102.6" r="1.8"/><circle cx="457.2" cy="103.3" r="1.8"/><circle cx="457" cy="103.6" r="1.8"/><circle cx="454" cy="106.3" r="1.8"/><circle cx="451.2" cy="109.1" r="1.8"/><circle cx="448.9" cy="111.1" r="1.8"/><circle cx="446.1" cy="113.6" r="1.8"/><circle cx="443.6" cy="115.5" r="1.8"/><circle cx="437.4" cy="123.6" r="1.8"/><circle cx="435.3" cy="126.5" r="1.8"/><circle cx="433.5" cy="128.4" r="1.8"/><circle cx="430.4" cy="129.8" r="1.8"/><circle cx="426.7" cy="129.7" r="1.8"/><circle cx="423.3" cy="130.7" r="1.8"/><circle cx="419.2" cy="131.2" r="1.8"/><circle cx="419.1" cy="130.9" r="1.8"/><circle cx="416.7" cy="133" r="1.8"/><circle cx="413.9" cy="135.2" r="1.8"/><circle cx="411.7" cy="137" r="1.8"/></g>
<g class="k"><circle cx="354.8" cy="115.2" r="1.85"/><circle cx="357" cy="112.6" r="1.85"/><circle cx="358" cy="110.6" r="1.85"/><circle cx="359.9" cy="108.7" r="1.85"/><circle cx="361" cy="106.6" r="1.85"/><circle cx="356.5" cy="116.4" r="1.85"/><circle cx="358.8" cy="114.4" r="1.85"/><circle cx="360.1" cy="111.6" r="1.85"/><circle cx="361.4" cy="110.2" r="1.85"/><circle cx="363" cy="108" r="1.85"/><circle cx="361.5" cy="106.1" r="1.85"/><circle cx="362.6" cy="104.7" r="1.85"/><circle cx="364" cy="103.1" r="1.85"/><circle cx="364.9" cy="100.9" r="1.85"/><circle cx="365.8" cy="98.9" r="1.85"/><circle cx="367.6" cy="96.8" r="1.85"/><circle cx="368.6" cy="95.1" r="1.85"/><circle cx="369.5" cy="93.2" r="1.85"/><circle cx="370.9" cy="91.7" r="1.85"/><circle cx="372.7" cy="89.6" r="1.85"/><circle cx="373.4" cy="88.2" r="1.85"/><circle cx="374.6" cy="85.9" r="1.85"/><circle cx="376.1" cy="84.6" r="1.85"/><circle cx="362.7" cy="107.8" r="1.85"/><circle cx="363.9" cy="106.1" r="1.85"/><circle cx="365.4" cy="104" r="1.85"/><circle cx="366.8" cy="102" r="1.85"/><circle cx="368.1" cy="100" r="1.85"/><circle cx="368.8" cy="98.3" r="1.85"/><circle cx="370.6" cy="96.3" r="1.85"/><circle cx="371.5" cy="94.6" r="1.85"/><circle cx="372.6" cy="93.3" r="1.85"/><circle cx="374.2" cy="90.8" r="1.85"/><circle cx="375.4" cy="89.6" r="1.85"/><circle cx="376.9" cy="87.4" r="1.85"/><circle cx="377.6" cy="85.9" r="1.85"/><circle cx="346.9" cy="120.8" r="1.85"/><circle cx="348.8" cy="118.9" r="1.85"/><circle cx="349.9" cy="116.8" r="1.85"/><circle cx="351.7" cy="115.3" r="1.85"/><circle cx="352.6" cy="113.3" r="1.85"/></g>
<g class="w"></g>
<g class="k"><circle cx="491.3" cy="77.9" r="1.9"/><circle cx="497" cy="82.5" r="1.9"/><circle cx="501.6" cy="83.4" r="1.9"/><circle cx="502.8" cy="82.9" r="1.9"/><circle cx="497" cy="86.3" r="1.9"/><circle cx="491.3" cy="89.3" r="1.9"/><circle cx="481.5" cy="92.8" r="1.9"/><circle cx="478.3" cy="116.8" r="1.9"/><circle cx="502.8" cy="112.2" r="1.9"/><circle cx="501.6" cy="119.6" r="1.9"/><circle cx="511.5" cy="117.3" r="1.9"/><circle cx="521.8" cy="116.8" r="1.9"/><circle cx="529.1" cy="112.7" r="1.9"/><circle cx="528.7" cy="119.1" r="1.9"/><circle cx="521.8" cy="123" r="1.9"/><circle cx="492" cy="126.4" r="1.9"/><circle cx="480.6" cy="127.6" r="1.9"/><circle cx="479" cy="131" r="1.9"/><circle cx="481" cy="133" r="1.9"/><circle cx="483" cy="135" r="1.9"/><circle cx="485.6" cy="131" r="1.9"/><circle cx="482" cy="137" r="1.9"/><circle cx="485" cy="136.5" r="1.9"/><circle cx="476.4" cy="72.6" r="1.9"/><circle cx="412.2" cy="79.6" r="1.9"/></g>
</g>
<rect x="327.3" y="12.5" width="207" height="147.8" fill="none" stroke="#222" stroke-width="1.1"/>
<path d="M327.3 160.3v2.6M327.3 160.3h-3M368.7 160.3v2.6M327.3 130.7h-3M410.1 160.3v2.6M327.3 101.2h-3M451.5 160.3v2.6M327.3 71.6h-3M492.9 160.3v2.6M327.3 42.1h-3M534.3 160.3v2.6M327.3 12.5h-3" stroke="#222" stroke-width="1"/>
<text class="t" x="327.3" y="177.3" font-size="10.8" text-anchor="middle">0.000</text>
<text class="t" x="320.3" y="163.8" font-size="10.8" text-anchor="end">0.000</text>
<text class="t" x="368.7" y="177.3" font-size="10.8" text-anchor="middle">0.005</text>
<text class="t" x="320.3" y="134.2" font-size="10.8" text-anchor="end">0.005</text>
<text class="t" x="410.1" y="177.3" font-size="10.8" text-anchor="middle">0.010</text>
<text class="t" x="320.3" y="104.7" font-size="10.8" text-anchor="end">0.010</text>
<text class="t" x="451.5" y="177.3" font-size="10.8" text-anchor="middle">0.015</text>
<text class="t" x="320.3" y="75.1" font-size="10.8" text-anchor="end">0.015</text>
<text class="t" x="492.9" y="177.3" font-size="10.8" text-anchor="middle">0.020</text>
<text class="t" x="320.3" y="45.6" font-size="10.8" text-anchor="end">0.020</text>
<text class="t" x="534.3" y="177.3" font-size="10.8" text-anchor="middle">0.025</text>
<text class="t" x="320.3" y="16" font-size="10.8" text-anchor="end">0.025</text>
<text class="t" x="430.8" y="199.5" font-size="11.7" text-anchor="middle">Observed Rrs (sr<tspan font-size="9.5" dy="-3.3">-1</tspan><tspan dy="3.3">)</tspan></text>
<text class="t" font-size="11.75" text-anchor="middle" transform="translate(288.8 86.7) rotate(-90)">Estimated Rrs (sr<tspan font-size="9.6" dy="-3.3">-1</tspan><tspan dy="3.3">)</tspan></text>
<text class="t" x="340" y="34.8" font-size="16">b</text>
<text class="t" x="358.4" y="23" font-size="8.0">Training</text>
<text class="t" x="357.8" y="33.6" font-size="8.0">R<tspan font-size="5" dy="-3">2</tspan><tspan dy="3"> : 0.64</tspan></text>
<text class="t" x="357.8" y="43" font-size="8.0">RMSE : 0.0022 sr<tspan font-size="5" dy="-3">-1</tspan></text>
<text class="t" x="433" y="22" font-size="8.0">Validation</text>
<text class="t" x="433" y="32.9" font-size="8.0">R<tspan font-size="5" dy="-3">2</tspan><tspan dy="3"> : 0.60</tspan></text>
<text class="t" x="433" y="42.8" font-size="8.0">RMSE : 0.0022 sr<tspan font-size="5" dy="-3">-1</tspan></text>
<text class="t" x="505.6" y="23.1" font-size="8.0">1:1 line</text>
<clipPath id="cpc"><rect x="55.8" y="209.8" width="206.2" height="148.6"/></clipPath>
<line x1="55.8" y1="358.4" x2="262" y2="209.8" stroke="#111" stroke-width=".8"/>
<g clip-path="url(#cpc)">
<polygon points="58.3,327.7 64.1,324 71.5,315.9 78.5,310.1 86.3,304.9 92,297.1 102.5,293.4 105.8,291.5 109.4,291 112.3,292.6 122.5,288.9 131.4,283.3 141.2,279.6 148.7,275 157.7,270.4 168.3,266 177.3,265.1 186.8,263.2 196.3,259.4 201.4,257.7 202.9,256.6 200.6,260.9 196.7,266.8 193.4,274.7 194.4,282 193.4,289.7 193.1,293.7 186.6,300 175.9,303.6 162.4,311.2 156.6,317 151.9,322.3 147,324.6 142.8,326.1 134.3,327 127.6,330 120.3,332.9 113.2,335.8 105.9,337.3 99.1,339.4 95.4,347.4 87.2,348.6 75.6,351.1 71.2,355.1 69,357.6 57.8,358.2" fill="#000"/>
<g class="k"><circle cx="180.5" cy="264.2" r="1.8"/><circle cx="193.5" cy="263.2" r="1.8"/><circle cx="164.8" cy="267.1" r="1.8"/><circle cx="167.6" cy="266.8" r="1.8"/><circle cx="185.7" cy="267" r="1.8"/><circle cx="192" cy="266.3" r="1.8"/><circle cx="170.2" cy="269.2" r="1.8"/><circle cx="183.2" cy="269.8" r="1.8"/><circle cx="154.6" cy="273" r="1.8"/><circle cx="171.8" cy="272.7" r="1.8"/><circle cx="174.3" cy="272.5" r="1.8"/><circle cx="176.3" cy="275.5" r="1.8"/><circle cx="193.2" cy="275.8" r="1.8"/><circle cx="179.9" cy="281.6" r="1.8"/><circle cx="174.3" cy="284.4" r="1.8"/><circle cx="181.9" cy="283.9" r="1.8"/><circle cx="185.5" cy="283.9" r="1.8"/><circle cx="192.1" cy="283.9" r="1.8"/><circle cx="173.4" cy="286.8" r="1.8"/><circle cx="177.4" cy="287.8" r="1.8"/><circle cx="186.3" cy="287.4" r="1.8"/><circle cx="141.6" cy="290.2" r="1.8"/><circle cx="174.7" cy="289.9" r="1.8"/><circle cx="185" cy="291" r="1.8"/><circle cx="191.7" cy="289.9" r="1.8"/><circle cx="109.8" cy="296.4" r="1.8"/><circle cx="174.4" cy="296" r="1.8"/><circle cx="177.8" cy="296.1" r="1.8"/><circle cx="185.3" cy="296.4" r="1.8"/><circle cx="108.9" cy="298.7" r="1.8"/><circle cx="180.2" cy="298.8" r="1.8"/><circle cx="174.4" cy="301.6" r="1.8"/><circle cx="181.6" cy="302.3" r="1.8"/><circle cx="184.9" cy="301.6" r="1.8"/><circle cx="107" cy="308.3" r="1.8"/><circle cx="110" cy="308.2" r="1.8"/><circle cx="122.7" cy="310.7" r="1.8"/><circle cx="151" cy="313.8" r="1.8"/><circle cx="87.9" cy="317.5" r="1.8"/><circle cx="114.9" cy="316.5" r="1.8"/><circle cx="90.3" cy="319.5" r="1.8"/><circle cx="88.4" cy="322.2" r="1.8"/><circle cx="132.8" cy="323.1" r="1.8"/><circle cx="62.2" cy="325.6" r="1.8"/><circle cx="57.5" cy="328.5" r="1.8"/><circle cx="131.8" cy="329.2" r="1.8"/><circle cx="69.2" cy="331.6" r="1.8"/><circle cx="106.8" cy="336.9" r="1.8"/><circle cx="57.8" cy="341" r="1.8"/><circle cx="59.5" cy="343" r="1.8"/><circle cx="89.7" cy="342.7" r="1.8"/><circle cx="74.7" cy="345.9" r="1.8"/><circle cx="83.5" cy="348.6" r="1.8"/></g>
<g class="w"><circle cx="196.8" cy="258.5" r="1.55"/><circle cx="200" cy="257.5" r="1.55"/><circle cx="189" cy="261.5" r="1.55"/><circle cx="191.6" cy="261.3" r="1.55"/><circle cx="182.9" cy="264.3" r="1.55"/><circle cx="189.9" cy="264.1" r="1.55"/><circle cx="196.9" cy="264.1" r="1.55"/><circle cx="171.9" cy="266.5" r="1.55"/><circle cx="179.1" cy="267.1" r="1.55"/><circle cx="181.7" cy="266.4" r="1.55"/><circle cx="188.3" cy="267.5" r="1.55"/><circle cx="156.1" cy="270.3" r="1.55"/><circle cx="160.3" cy="269.4" r="1.55"/><circle cx="163.2" cy="269.7" r="1.55"/><circle cx="166.9" cy="270.1" r="1.55"/><circle cx="173.1" cy="270.4" r="1.55"/><circle cx="180.8" cy="270" r="1.55"/><circle cx="186.9" cy="269.9" r="1.55"/><circle cx="194.3" cy="269.4" r="1.55"/><circle cx="151.3" cy="272.8" r="1.55"/><circle cx="157.9" cy="272.6" r="1.55"/><circle cx="161.1" cy="272.2" r="1.55"/><circle cx="164.7" cy="272.7" r="1.55"/><circle cx="168" cy="272.3" r="1.55"/><circle cx="178.2" cy="272.7" r="1.55"/><circle cx="182.4" cy="272.3" r="1.55"/><circle cx="185.1" cy="273.3" r="1.55"/><circle cx="146" cy="275.5" r="1.55"/><circle cx="149.5" cy="275.1" r="1.55"/><circle cx="152.3" cy="275.4" r="1.55"/><circle cx="156.7" cy="276.3" r="1.55"/><circle cx="159.6" cy="275.5" r="1.55"/><circle cx="162.7" cy="275" r="1.55"/><circle cx="166.9" cy="275.9" r="1.55"/><circle cx="183.1" cy="274.9" r="1.55"/><circle cx="187" cy="275.5" r="1.55"/><circle cx="189.7" cy="275.8" r="1.55"/><circle cx="141.2" cy="278.4" r="1.55"/><circle cx="143.8" cy="278.7" r="1.55"/><circle cx="148" cy="279.2" r="1.55"/><circle cx="151.8" cy="277.9" r="1.55"/><circle cx="154.9" cy="278" r="1.55"/><circle cx="158.3" cy="279.2" r="1.55"/><circle cx="161.2" cy="279" r="1.55"/><circle cx="165.1" cy="278.5" r="1.55"/><circle cx="171.4" cy="279" r="1.55"/><circle cx="174.9" cy="278" r="1.55"/><circle cx="178.5" cy="278.7" r="1.55"/><circle cx="188.7" cy="278" r="1.55"/><circle cx="136.2" cy="281.7" r="1.55"/><circle cx="139.3" cy="280.9" r="1.55"/><circle cx="143.2" cy="281.5" r="1.55"/><circle cx="146.7" cy="280.8" r="1.55"/><circle cx="150.1" cy="281.7" r="1.55"/><circle cx="152.8" cy="281.5" r="1.55"/><circle cx="156.1" cy="281.1" r="1.55"/><circle cx="159.8" cy="281" r="1.55"/><circle cx="162.6" cy="281.7" r="1.55"/><circle cx="167.1" cy="282.2" r="1.55"/><circle cx="169.8" cy="281.9" r="1.55"/><circle cx="187.4" cy="280.9" r="1.55"/><circle cx="190.2" cy="281.2" r="1.55"/><circle cx="131.4" cy="284.1" r="1.55"/><circle cx="134.2" cy="284.3" r="1.55"/><circle cx="137.1" cy="285.1" r="1.55"/><circle cx="140.9" cy="284.9" r="1.55"/><circle cx="144.1" cy="284.2" r="1.55"/><circle cx="147.7" cy="284" r="1.55"/><circle cx="150.6" cy="284.3" r="1.55"/><circle cx="154.4" cy="284.5" r="1.55"/><circle cx="157.4" cy="283.8" r="1.55"/><circle cx="161.2" cy="284.1" r="1.55"/><circle cx="164.2" cy="284.5" r="1.55"/><circle cx="172.3" cy="284.5" r="1.55"/><circle cx="188" cy="283.8" r="1.55"/><circle cx="125.8" cy="287.2" r="1.55"/><circle cx="129.5" cy="287.4" r="1.55"/><circle cx="132.1" cy="286.8" r="1.55"/><circle cx="135.6" cy="287.6" r="1.55"/><circle cx="139.4" cy="286.8" r="1.55"/><circle cx="142.7" cy="287.2" r="1.55"/><circle cx="146.8" cy="287.9" r="1.55"/><circle cx="149.9" cy="287" r="1.55"/><circle cx="153.4" cy="287.2" r="1.55"/><circle cx="156.5" cy="287.8" r="1.55"/><circle cx="159.3" cy="288" r="1.55"/><circle cx="162.8" cy="287.6" r="1.55"/><circle cx="167.1" cy="286.9" r="1.55"/><circle cx="180.5" cy="287.8" r="1.55"/><circle cx="189.6" cy="286.8" r="1.55"/><circle cx="194.3" cy="286.9" r="1.55"/><circle cx="117" cy="290.5" r="1.55"/><circle cx="120.3" cy="290.6" r="1.55"/><circle cx="124.7" cy="289.6" r="1.55"/><circle cx="126.9" cy="290.6" r="1.55"/><circle cx="131.2" cy="289.8" r="1.55"/><circle cx="133.9" cy="290.8" r="1.55"/><circle cx="137.2" cy="290.2" r="1.55"/><circle cx="145" cy="290.3" r="1.55"/><circle cx="147.9" cy="290.3" r="1.55"/><circle cx="151.2" cy="290.7" r="1.55"/><circle cx="154.1" cy="290" r="1.55"/><circle cx="158.5" cy="290.3" r="1.55"/><circle cx="162" cy="291" r="1.55"/><circle cx="164.4" cy="290.7" r="1.55"/><circle cx="167.6" cy="290.5" r="1.55"/><circle cx="171.3" cy="290.4" r="1.55"/><circle cx="181.8" cy="290.4" r="1.55"/><circle cx="188.1" cy="290.9" r="1.55"/><circle cx="98.9" cy="293.9" r="1.55"/><circle cx="102" cy="293.6" r="1.55"/><circle cx="105.8" cy="293.8" r="1.55"/><circle cx="109" cy="293" r="1.55"/><circle cx="111.7" cy="293.2" r="1.55"/><circle cx="115.8" cy="293.5" r="1.55"/><circle cx="118.7" cy="293.2" r="1.55"/><circle cx="122.7" cy="293.7" r="1.55"/><circle cx="125.7" cy="292.7" r="1.55"/><circle cx="128.8" cy="293" r="1.55"/><circle cx="132.4" cy="293.3" r="1.55"/><circle cx="135.8" cy="294" r="1.55"/><circle cx="139.8" cy="292.8" r="1.55"/><circle cx="143" cy="293.3" r="1.55"/><circle cx="145.5" cy="293" r="1.55"/><circle cx="149.5" cy="293.1" r="1.55"/><circle cx="153.3" cy="293.7" r="1.55"/><circle cx="159.4" cy="293.5" r="1.55"/><circle cx="163.7" cy="293.9" r="1.55"/><circle cx="166.3" cy="292.6" r="1.55"/><circle cx="173.9" cy="292.6" r="1.55"/><circle cx="176.1" cy="293" r="1.55"/><circle cx="180.6" cy="293.1" r="1.55"/><circle cx="183" cy="292.8" r="1.55"/><circle cx="190.7" cy="293.2" r="1.55"/><circle cx="193.3" cy="292.7" r="1.55"/><circle cx="96.7" cy="295.8" r="1.55"/><circle cx="100.2" cy="296.9" r="1.55"/><circle cx="103.1" cy="296.3" r="1.55"/><circle cx="107" cy="295.9" r="1.55"/><circle cx="113.6" cy="296.4" r="1.55"/><circle cx="117.1" cy="296.8" r="1.55"/><circle cx="120.4" cy="296.4" r="1.55"/><circle cx="124.1" cy="296.1" r="1.55"/><circle cx="127.3" cy="296.1" r="1.55"/><circle cx="131" cy="296.3" r="1.55"/><circle cx="134.4" cy="296.9" r="1.55"/><circle cx="137.5" cy="296.4" r="1.55"/><circle cx="140.9" cy="296.1" r="1.55"/><circle cx="143.7" cy="296.1" r="1.55"/><circle cx="147.9" cy="295.6" r="1.55"/><circle cx="151.4" cy="296.2" r="1.55"/><circle cx="155.3" cy="296.2" r="1.55"/><circle cx="158.2" cy="296.6" r="1.55"/><circle cx="162.1" cy="295.8" r="1.55"/><circle cx="165.1" cy="296.9" r="1.55"/><circle cx="188.3" cy="296" r="1.55"/><circle cx="92.3" cy="299.3" r="1.55"/><circle cx="95.7" cy="299.2" r="1.55"/><circle cx="98.7" cy="299.1" r="1.55"/><circle cx="102.1" cy="298.7" r="1.55"/><circle cx="105.6" cy="298.5" r="1.55"/><circle cx="112.3" cy="299.6" r="1.55"/><circle cx="114.9" cy="298.6" r="1.55"/><circle cx="118.7" cy="298.9" r="1.55"/><circle cx="122.4" cy="299.7" r="1.55"/><circle cx="125.2" cy="298.6" r="1.55"/><circle cx="129.8" cy="299.4" r="1.55"/><circle cx="133.2" cy="299.1" r="1.55"/><circle cx="135.8" cy="298.5" r="1.55"/><circle cx="139.4" cy="299.8" r="1.55"/><circle cx="142.6" cy="299.5" r="1.55"/><circle cx="145.7" cy="299.8" r="1.55"/><circle cx="149" cy="298.9" r="1.55"/><circle cx="153" cy="299.4" r="1.55"/><circle cx="156.2" cy="298.9" r="1.55"/><circle cx="159.7" cy="299.4" r="1.55"/><circle cx="163.6" cy="299.5" r="1.55"/><circle cx="166.4" cy="299.8" r="1.55"/><circle cx="169.9" cy="299.4" r="1.55"/><circle cx="173" cy="298.7" r="1.55"/><circle cx="176.3" cy="299.7" r="1.55"/><circle cx="183.2" cy="299.6" r="1.55"/><circle cx="186.7" cy="298.8" r="1.55"/><circle cx="86.8" cy="302.6" r="1.55"/><circle cx="89.4" cy="301.7" r="1.55"/><circle cx="93.9" cy="302.7" r="1.55"/><circle cx="96.2" cy="302.2" r="1.55"/><circle cx="100.5" cy="301.9" r="1.55"/><circle cx="104" cy="302.3" r="1.55"/><circle cx="106.9" cy="301.7" r="1.55"/><circle cx="113.5" cy="302.4" r="1.55"/><circle cx="117.3" cy="302.4" r="1.55"/><circle cx="120.1" cy="301.7" r="1.55"/><circle cx="124.4" cy="301.5" r="1.55"/><circle cx="126.8" cy="302.7" r="1.55"/><circle cx="130.2" cy="301.9" r="1.55"/><circle cx="134.4" cy="301.6" r="1.55"/><circle cx="138.2" cy="302.4" r="1.55"/><circle cx="141.3" cy="301.8" r="1.55"/><circle cx="144.4" cy="302.7" r="1.55"/><circle cx="151.3" cy="302.4" r="1.55"/><circle cx="154.8" cy="302.3" r="1.55"/><circle cx="157.5" cy="302.2" r="1.55"/><circle cx="161.8" cy="302.5" r="1.55"/><circle cx="164.2" cy="302.4" r="1.55"/><circle cx="168.2" cy="301.7" r="1.55"/><circle cx="171.3" cy="301.9" r="1.55"/><circle cx="178.2" cy="301.6" r="1.55"/><circle cx="88.1" cy="305.6" r="1.55"/><circle cx="91.9" cy="305.7" r="1.55"/><circle cx="94.5" cy="305.5" r="1.55"/><circle cx="99" cy="305.7" r="1.55"/><circle cx="102.5" cy="305.3" r="1.55"/><circle cx="105.9" cy="304.8" r="1.55"/><circle cx="112.7" cy="305" r="1.55"/><circle cx="115.2" cy="305" r="1.55"/><circle cx="118.5" cy="305" r="1.55"/><circle cx="122.8" cy="304.5" r="1.55"/><circle cx="126" cy="305" r="1.55"/><circle cx="129.3" cy="305.5" r="1.55"/><circle cx="132.6" cy="305.5" r="1.55"/><circle cx="135.5" cy="305.3" r="1.55"/><circle cx="138.7" cy="305.5" r="1.55"/><circle cx="142.7" cy="304.9" r="1.55"/><circle cx="145.7" cy="304.4" r="1.55"/><circle cx="149.1" cy="305" r="1.55"/><circle cx="153.6" cy="305.6" r="1.55"/><circle cx="156.6" cy="304.7" r="1.55"/><circle cx="160.1" cy="305.8" r="1.55"/><circle cx="163.3" cy="304.9" r="1.55"/><circle cx="166.4" cy="305.3" r="1.55"/><circle cx="169.9" cy="304.8" r="1.55"/><circle cx="172.9" cy="305" r="1.55"/><circle cx="80.3" cy="307.7" r="1.55"/><circle cx="83.5" cy="308" r="1.55"/><circle cx="86.8" cy="308.4" r="1.55"/><circle cx="89.4" cy="307.4" r="1.55"/><circle cx="94" cy="307.7" r="1.55"/><circle cx="97.4" cy="307.8" r="1.55"/><circle cx="99.7" cy="308.5" r="1.55"/><circle cx="103.2" cy="307.5" r="1.55"/><circle cx="114.4" cy="308" r="1.55"/><circle cx="117.9" cy="308.3" r="1.55"/><circle cx="121.2" cy="307.3" r="1.55"/><circle cx="124" cy="308.1" r="1.55"/><circle cx="127.4" cy="308.4" r="1.55"/><circle cx="131.2" cy="308.7" r="1.55"/><circle cx="133.7" cy="307.5" r="1.55"/><circle cx="137.8" cy="307.3" r="1.55"/><circle cx="140.3" cy="307.7" r="1.55"/><circle cx="145" cy="308.6" r="1.55"/><circle cx="147.1" cy="308.4" r="1.55"/><circle cx="150.7" cy="308.6" r="1.55"/><circle cx="154" cy="308.1" r="1.55"/><circle cx="158.6" cy="307.4" r="1.55"/><circle cx="162" cy="307.6" r="1.55"/><circle cx="164.6" cy="307.7" r="1.55"/><circle cx="167.6" cy="308.2" r="1.55"/><circle cx="78.1" cy="310.7" r="1.55"/><circle cx="82.1" cy="310.5" r="1.55"/><circle cx="84.7" cy="311" r="1.55"/><circle cx="87.8" cy="310.5" r="1.55"/><circle cx="91.9" cy="310.7" r="1.55"/><circle cx="94.5" cy="310.3" r="1.55"/><circle cx="99.1" cy="311.4" r="1.55"/><circle cx="102.3" cy="311.3" r="1.55"/><circle cx="105.1" cy="310.6" r="1.55"/><circle cx="108.5" cy="310.8" r="1.55"/><circle cx="111.5" cy="311.2" r="1.55"/><circle cx="116.1" cy="310.9" r="1.55"/><circle cx="118.8" cy="311.2" r="1.55"/><circle cx="126" cy="311.5" r="1.55"/><circle cx="128.7" cy="310.8" r="1.55"/><circle cx="132.1" cy="311.5" r="1.55"/><circle cx="136.5" cy="311.5" r="1.55"/><circle cx="139.4" cy="311.3" r="1.55"/><circle cx="142.3" cy="311" r="1.55"/><circle cx="145.8" cy="311.5" r="1.55"/><circle cx="149.7" cy="311" r="1.55"/><circle cx="152.8" cy="311.2" r="1.55"/><circle cx="155.6" cy="311.5" r="1.55"/><circle cx="159" cy="310.5" r="1.55"/><circle cx="163.7" cy="310.8" r="1.55"/><circle cx="72.4" cy="314.5" r="1.55"/><circle cx="76.5" cy="313.7" r="1.55"/><circle cx="80.5" cy="314.5" r="1.55"/><circle cx="82.6" cy="314.2" r="1.55"/><circle cx="86.5" cy="313.9" r="1.55"/><circle cx="90.6" cy="314.1" r="1.55"/><circle cx="92.9" cy="314.4" r="1.55"/><circle cx="96.9" cy="314.3" r="1.55"/><circle cx="99.6" cy="314.6" r="1.55"/><circle cx="103.7" cy="313.4" r="1.55"/><circle cx="107.7" cy="313.9" r="1.55"/><circle cx="109.9" cy="314.4" r="1.55"/><circle cx="113.2" cy="314.2" r="1.55"/><circle cx="116.7" cy="313.2" r="1.55"/><circle cx="120.1" cy="314.3" r="1.55"/><circle cx="124.1" cy="313.3" r="1.55"/><circle cx="127.9" cy="314.2" r="1.55"/><circle cx="131.4" cy="314" r="1.55"/><circle cx="134.3" cy="314" r="1.55"/><circle cx="138.1" cy="313.3" r="1.55"/><circle cx="141.6" cy="314.2" r="1.55"/><circle cx="144.7" cy="314" r="1.55"/><circle cx="148.4" cy="314.1" r="1.55"/><circle cx="154.3" cy="313.2" r="1.55"/><circle cx="158.2" cy="314" r="1.55"/><circle cx="70.7" cy="316.2" r="1.55"/><circle cx="74.3" cy="317.2" r="1.55"/><circle cx="77.5" cy="316.4" r="1.55"/><circle cx="80.9" cy="316.2" r="1.55"/><circle cx="84.6" cy="317.5" r="1.55"/><circle cx="91.2" cy="317" r="1.55"/><circle cx="94.9" cy="316.2" r="1.55"/><circle cx="98.3" cy="316.8" r="1.55"/><circle cx="104.9" cy="317.5" r="1.55"/><circle cx="108.8" cy="316.9" r="1.55"/><circle cx="112.7" cy="317.2" r="1.55"/><circle cx="118.9" cy="316.5" r="1.55"/><circle cx="122.9" cy="316.9" r="1.55"/><circle cx="125.7" cy="316.6" r="1.55"/><circle cx="129.2" cy="317.3" r="1.55"/><circle cx="132.1" cy="316.8" r="1.55"/><circle cx="135.8" cy="316.7" r="1.55"/><circle cx="139.9" cy="317.1" r="1.55"/><circle cx="143" cy="316.7" r="1.55"/><circle cx="145.8" cy="316.7" r="1.55"/><circle cx="150.1" cy="316.4" r="1.55"/><circle cx="153.1" cy="316.3" r="1.55"/><circle cx="156.3" cy="316.3" r="1.55"/><circle cx="69.4" cy="319.9" r="1.55"/><circle cx="72.9" cy="319.2" r="1.55"/><circle cx="75.7" cy="320.3" r="1.55"/><circle cx="79.3" cy="319.3" r="1.55"/><circle cx="83" cy="319.5" r="1.55"/><circle cx="86.2" cy="320.4" r="1.55"/><circle cx="93.2" cy="319.4" r="1.55"/><circle cx="96.9" cy="319.4" r="1.55"/><circle cx="100.7" cy="319.7" r="1.55"/><circle cx="103.2" cy="320.4" r="1.55"/><circle cx="107.6" cy="320.4" r="1.55"/><circle cx="110.9" cy="319.8" r="1.55"/><circle cx="114.4" cy="319.1" r="1.55"/><circle cx="117.7" cy="320" r="1.55"/><circle cx="120.7" cy="319.2" r="1.55"/><circle cx="123.5" cy="320.5" r="1.55"/><circle cx="128" cy="319.7" r="1.55"/><circle cx="130.3" cy="320.3" r="1.55"/><circle cx="134.3" cy="319.7" r="1.55"/><circle cx="136.9" cy="320.1" r="1.55"/><circle cx="140.3" cy="319.1" r="1.55"/><circle cx="144.4" cy="319.1" r="1.55"/><circle cx="148.2" cy="319.6" r="1.55"/><circle cx="150.6" cy="320.3" r="1.55"/><circle cx="153.9" cy="320" r="1.55"/><circle cx="64.4" cy="323.3" r="1.55"/><circle cx="68.5" cy="322.7" r="1.55"/><circle cx="71.4" cy="323.4" r="1.55"/><circle cx="75" cy="322.5" r="1.55"/><circle cx="78.5" cy="322.4" r="1.55"/><circle cx="81.4" cy="323" r="1.55"/><circle cx="84.6" cy="323.1" r="1.55"/><circle cx="98.9" cy="323.2" r="1.55"/><circle cx="102.3" cy="323.3" r="1.55"/><circle cx="105" cy="322.7" r="1.55"/><circle cx="109.1" cy="322.1" r="1.55"/><circle cx="111.6" cy="322.8" r="1.55"/><circle cx="115.6" cy="322.2" r="1.55"/><circle cx="119.4" cy="323.2" r="1.55"/><circle cx="122.9" cy="323.4" r="1.55"/><circle cx="125.4" cy="322.9" r="1.55"/><circle cx="128.4" cy="322.5" r="1.55"/><circle cx="135.4" cy="323.3" r="1.55"/><circle cx="139.3" cy="323.1" r="1.55"/><circle cx="145.9" cy="323.1" r="1.55"/><circle cx="149.1" cy="323.3" r="1.55"/><circle cx="66.6" cy="325.9" r="1.55"/><circle cx="69.7" cy="325.3" r="1.55"/><circle cx="72.7" cy="325.3" r="1.55"/><circle cx="75.9" cy="325.5" r="1.55"/><circle cx="80.1" cy="325.3" r="1.55"/><circle cx="82.8" cy="325.8" r="1.55"/><circle cx="86.3" cy="325.3" r="1.55"/><circle cx="89.4" cy="325.6" r="1.55"/><circle cx="92.9" cy="325.2" r="1.55"/><circle cx="97.2" cy="325" r="1.55"/><circle cx="100.6" cy="326.3" r="1.55"/><circle cx="103.3" cy="325.1" r="1.55"/><circle cx="106.9" cy="326.3" r="1.55"/><circle cx="110.6" cy="325.4" r="1.55"/><circle cx="114.1" cy="325.5" r="1.55"/><circle cx="116.8" cy="325.7" r="1.55"/><circle cx="120.8" cy="325.2" r="1.55"/><circle cx="124.4" cy="325.9" r="1.55"/><circle cx="127.3" cy="326.1" r="1.55"/><circle cx="138.1" cy="325.6" r="1.55"/><circle cx="140.6" cy="325.6" r="1.55"/><circle cx="144.5" cy="326" r="1.55"/><circle cx="60.5" cy="328.5" r="1.55"/><circle cx="65" cy="328.3" r="1.55"/><circle cx="68.2" cy="328.9" r="1.55"/><circle cx="71.2" cy="328.7" r="1.55"/><circle cx="75.3" cy="328.3" r="1.55"/><circle cx="78.8" cy="327.9" r="1.55"/><circle cx="81.4" cy="328.7" r="1.55"/><circle cx="85.3" cy="328.3" r="1.55"/><circle cx="87.8" cy="327.9" r="1.55"/><circle cx="92.3" cy="329.2" r="1.55"/><circle cx="95.1" cy="328.7" r="1.55"/><circle cx="99.2" cy="329.1" r="1.55"/><circle cx="102.5" cy="328" r="1.55"/><circle cx="105.7" cy="329.3" r="1.55"/><circle cx="108.9" cy="328.9" r="1.55"/><circle cx="112.6" cy="329.3" r="1.55"/><circle cx="115.3" cy="329.2" r="1.55"/><circle cx="118.3" cy="328.4" r="1.55"/><circle cx="122" cy="328.3" r="1.55"/><circle cx="126.2" cy="328.2" r="1.55"/><circle cx="129.4" cy="328.9" r="1.55"/><circle cx="62.3" cy="332" r="1.55"/><circle cx="66.8" cy="331.6" r="1.55"/><circle cx="73.5" cy="331.3" r="1.55"/><circle cx="77.1" cy="331.1" r="1.55"/><circle cx="79.4" cy="332" r="1.55"/><circle cx="82.7" cy="331.5" r="1.55"/><circle cx="86.7" cy="331.7" r="1.55"/><circle cx="90" cy="331.8" r="1.55"/><circle cx="93.4" cy="331.3" r="1.55"/><circle cx="96.3" cy="331.4" r="1.55"/><circle cx="99.9" cy="331.7" r="1.55"/><circle cx="103.3" cy="332.1" r="1.55"/><circle cx="106.9" cy="331" r="1.55"/><circle cx="110.7" cy="331.5" r="1.55"/><circle cx="114.4" cy="332" r="1.55"/><circle cx="117.6" cy="331.6" r="1.55"/><circle cx="121" cy="331.3" r="1.55"/><circle cx="124.7" cy="331.9" r="1.55"/><circle cx="61.4" cy="334.6" r="1.55"/><circle cx="65" cy="334.7" r="1.55"/><circle cx="71.2" cy="335.1" r="1.55"/><circle cx="74.1" cy="334.6" r="1.55"/><circle cx="78.8" cy="334.4" r="1.55"/><circle cx="82" cy="334.3" r="1.55"/><circle cx="85" cy="335.1" r="1.55"/><circle cx="88.3" cy="334.6" r="1.55"/><circle cx="91.8" cy="334.7" r="1.55"/><circle cx="95.6" cy="334.1" r="1.55"/><circle cx="98" cy="334.9" r="1.55"/><circle cx="102.1" cy="333.9" r="1.55"/><circle cx="105.8" cy="333.9" r="1.55"/><circle cx="109.2" cy="334" r="1.55"/><circle cx="111.6" cy="334.1" r="1.55"/><circle cx="115.2" cy="333.9" r="1.55"/><circle cx="119.3" cy="334.3" r="1.55"/><circle cx="59.8" cy="337.6" r="1.55"/><circle cx="63.4" cy="337.9" r="1.55"/><circle cx="66.9" cy="337.5" r="1.55"/><circle cx="69.7" cy="337.1" r="1.55"/><circle cx="73.6" cy="337.8" r="1.55"/><circle cx="79.1" cy="337.9" r="1.55"/><circle cx="83.1" cy="336.9" r="1.55"/><circle cx="87.1" cy="337.8" r="1.55"/><circle cx="89.7" cy="337.3" r="1.55"/><circle cx="92.7" cy="337.4" r="1.55"/><circle cx="96.7" cy="337.2" r="1.55"/><circle cx="99.6" cy="337.1" r="1.55"/><circle cx="103.9" cy="338.1" r="1.55"/><circle cx="61.8" cy="340.7" r="1.55"/><circle cx="71.4" cy="340.5" r="1.55"/><circle cx="75.1" cy="340.6" r="1.55"/><circle cx="81.3" cy="340.3" r="1.55"/><circle cx="84.9" cy="339.9" r="1.55"/><circle cx="88.5" cy="340.2" r="1.55"/><circle cx="91.6" cy="340.4" r="1.55"/><circle cx="95.1" cy="340" r="1.55"/><circle cx="99.1" cy="339.8" r="1.55"/><circle cx="62.7" cy="343.2" r="1.55"/><circle cx="66.4" cy="343.3" r="1.55"/><circle cx="70.2" cy="343.7" r="1.55"/><circle cx="72.8" cy="343.7" r="1.55"/><circle cx="76.3" cy="343.5" r="1.55"/><circle cx="79.7" cy="344" r="1.55"/><circle cx="82.8" cy="343.3" r="1.55"/><circle cx="86.1" cy="343.7" r="1.55"/><circle cx="93.6" cy="343.3" r="1.55"/><circle cx="96.2" cy="342.7" r="1.55"/><circle cx="58.2" cy="346.7" r="1.55"/><circle cx="60.7" cy="345.9" r="1.55"/><circle cx="67.6" cy="346" r="1.55"/><circle cx="71.4" cy="345.9" r="1.55"/><circle cx="78.6" cy="346.6" r="1.55"/><circle cx="81.3" cy="346.6" r="1.55"/><circle cx="84.4" cy="346.9" r="1.55"/><circle cx="88" cy="346.7" r="1.55"/><circle cx="91.6" cy="346.7" r="1.55"/><circle cx="95" cy="346.7" r="1.55"/><circle cx="66.7" cy="348.9" r="1.55"/><circle cx="70.3" cy="348.7" r="1.55"/><circle cx="73.2" cy="349.6" r="1.55"/><circle cx="76.7" cy="348.7" r="1.55"/><circle cx="86" cy="349.7" r="1.55"/><circle cx="90.3" cy="348.9" r="1.55"/><circle cx="58.4" cy="351.9" r="1.55"/><circle cx="64.5" cy="351.6" r="1.55"/><circle cx="68.5" cy="352.8" r="1.55"/><circle cx="71" cy="352.6" r="1.55"/><circle cx="75" cy="352.7" r="1.55"/><circle cx="59.6" cy="355.1" r="1.55"/><circle cx="63.4" cy="355.5" r="1.55"/><circle cx="66.1" cy="355.6" r="1.55"/><circle cx="69" cy="355.7" r="1.55"/><circle cx="72.9" cy="355.1" r="1.55"/><circle cx="64.3" cy="358.6" r="1.55"/><circle cx="67.6" cy="357.8" r="1.55"/></g>
<g class="k"><circle cx="195" cy="261.2" r="1.8"/><circle cx="199.2" cy="260.6" r="1.8"/><circle cx="186.4" cy="264.1" r="1.8"/><circle cx="174.6" cy="266.7" r="1.8"/><circle cx="195.8" cy="267" r="1.8"/><circle cx="176.1" cy="270.1" r="1.8"/><circle cx="189.8" cy="270.1" r="1.8"/><circle cx="189.1" cy="272.9" r="1.8"/><circle cx="192" cy="273" r="1.8"/><circle cx="169.6" cy="275.5" r="1.8"/><circle cx="173.9" cy="275.2" r="1.8"/><circle cx="180.4" cy="275.7" r="1.8"/><circle cx="168.8" cy="278.3" r="1.8"/><circle cx="181.7" cy="278.2" r="1.8"/><circle cx="184.9" cy="278.9" r="1.8"/><circle cx="192.6" cy="278.4" r="1.8"/><circle cx="173.1" cy="282.2" r="1.8"/><circle cx="176.5" cy="281.2" r="1.8"/><circle cx="183.2" cy="281" r="1.8"/><circle cx="193.8" cy="281.6" r="1.8"/><circle cx="168.6" cy="284.4" r="1.8"/><circle cx="178.6" cy="284.7" r="1.8"/><circle cx="169.4" cy="287.8" r="1.8"/><circle cx="182.9" cy="286.9" r="1.8"/><circle cx="178.6" cy="290.8" r="1.8"/><circle cx="155.9" cy="292.6" r="1.8"/><circle cx="169.4" cy="293.3" r="1.8"/><circle cx="187.4" cy="293.3" r="1.8"/><circle cx="93" cy="296.5" r="1.8"/><circle cx="168.3" cy="296" r="1.8"/><circle cx="171.6" cy="295.9" r="1.8"/><circle cx="181.7" cy="295.5" r="1.8"/><circle cx="111" cy="302.8" r="1.8"/><circle cx="147.2" cy="302" r="1.8"/><circle cx="108.8" cy="305.7" r="1.8"/><circle cx="102.1" cy="317.1" r="1.8"/><circle cx="91.9" cy="322.1" r="1.8"/><circle cx="95.1" cy="322.7" r="1.8"/><circle cx="142.3" cy="322.6" r="1.8"/><circle cx="130.9" cy="325.3" r="1.8"/><circle cx="134.5" cy="326.3" r="1.8"/><circle cx="59" cy="332.2" r="1.8"/><circle cx="67.7" cy="334.1" r="1.8"/><circle cx="76.2" cy="337.2" r="1.8"/><circle cx="64" cy="340" r="1.8"/><circle cx="68.6" cy="341.1" r="1.8"/><circle cx="78.7" cy="340.3" r="1.8"/><circle cx="64.6" cy="346.5" r="1.8"/><circle cx="59.3" cy="349.6" r="1.8"/><circle cx="63.1" cy="349.3" r="1.8"/><circle cx="79.5" cy="349.5" r="1.8"/><circle cx="61.2" cy="352.7" r="1.8"/><circle cx="58.2" cy="357.6" r="1.8"/><circle cx="60.6" cy="357.9" r="1.8"/></g>
<g class="k"><circle cx="129.8" cy="281.3" r="1.8"/><circle cx="133.7" cy="279.8" r="1.8"/><circle cx="140.5" cy="277.2" r="1.8"/><circle cx="143.8" cy="274.7" r="1.8"/><circle cx="147.9" cy="272.5" r="1.8"/><circle cx="147.3" cy="273.2" r="1.8"/><circle cx="150.3" cy="270.8" r="1.8"/><circle cx="153.3" cy="269.3" r="1.8"/><circle cx="156.3" cy="268.3" r="1.8"/><circle cx="157" cy="267.9" r="1.8"/><circle cx="160.1" cy="267" r="1.8"/><circle cx="164.4" cy="265.5" r="1.8"/><circle cx="168.1" cy="263.1" r="1.8"/><circle cx="170.5" cy="263.4" r="1.8"/><circle cx="174.4" cy="262.5" r="1.8"/><circle cx="176.3" cy="262.6" r="1.8"/><circle cx="179.8" cy="261.6" r="1.8"/><circle cx="182.6" cy="261.7" r="1.8"/><circle cx="185.7" cy="261" r="1.8"/><circle cx="189.2" cy="260" r="1.8"/><circle cx="192.1" cy="258.2" r="1.8"/></g>
<g class="k"><circle cx="188.6" cy="301" r="1.8"/><circle cx="180.7" cy="303.9" r="1.8"/><circle cx="177.3" cy="305.3" r="1.8"/><circle cx="177" cy="305.2" r="1.8"/><circle cx="174.1" cy="306.3" r="1.8"/><circle cx="171" cy="308.5" r="1.8"/><circle cx="166.9" cy="311.1" r="1.8"/><circle cx="164.6" cy="312.3" r="1.8"/><circle cx="163.8" cy="312.2" r="1.8"/><circle cx="161.8" cy="315.5" r="1.8"/><circle cx="158.2" cy="317.6" r="1.8"/><circle cx="158.3" cy="318" r="1.8"/><circle cx="155.5" cy="320.1" r="1.8"/><circle cx="154.1" cy="323.9" r="1.8"/><circle cx="148.3" cy="325.8" r="1.8"/><circle cx="147.5" cy="325.7" r="1.8"/><circle cx="143.7" cy="328.1" r="1.8"/><circle cx="143.5" cy="328" r="1.8"/><circle cx="139.1" cy="328" r="1.8"/><circle cx="134.8" cy="328.9" r="1.8"/><circle cx="135.2" cy="328.7" r="1.8"/><circle cx="125.1" cy="332.6" r="1.8"/><circle cx="121.3" cy="334.5" r="1.8"/><circle cx="121.7" cy="334.7" r="1.8"/><circle cx="113.5" cy="337.6" r="1.8"/><circle cx="106.2" cy="339" r="1.8"/><circle cx="102.9" cy="340.6" r="1.8"/><circle cx="99" cy="342.5" r="1.8"/><circle cx="96.7" cy="344.8" r="1.8"/></g>
<g class="k"><circle cx="83.8" cy="313.1" r="1.85"/><circle cx="85.7" cy="311.7" r="1.85"/><circle cx="87.7" cy="310.9" r="1.85"/><circle cx="89.6" cy="309.1" r="1.85"/><circle cx="91.5" cy="308.2" r="1.85"/><circle cx="93.5" cy="306.1" r="1.85"/><circle cx="95.4" cy="305.2" r="1.85"/><circle cx="96.8" cy="304.1" r="1.85"/><circle cx="99.4" cy="302.5" r="1.85"/><circle cx="101.2" cy="301.5" r="1.85"/><circle cx="103" cy="299.9" r="1.85"/><circle cx="105" cy="298.9" r="1.85"/><circle cx="106.2" cy="297.2" r="1.85"/><circle cx="108.2" cy="296" r="1.85"/><circle cx="110.6" cy="294.2" r="1.85"/><circle cx="85" cy="314.7" r="1.85"/><circle cx="87.5" cy="313.6" r="1.85"/><circle cx="89.1" cy="312.5" r="1.85"/><circle cx="90.9" cy="310.9" r="1.85"/><circle cx="92.7" cy="309.6" r="1.85"/><circle cx="94.4" cy="308.6" r="1.85"/><circle cx="96.8" cy="307.4" r="1.85"/><circle cx="98.6" cy="305.7" r="1.85"/><circle cx="100.3" cy="304.2" r="1.85"/><circle cx="102.3" cy="303.2" r="1.85"/><circle cx="104.3" cy="301.3" r="1.85"/><circle cx="106" cy="300.7" r="1.85"/><circle cx="107.6" cy="299.1" r="1.85"/><circle cx="109.8" cy="297.6" r="1.85"/><circle cx="111.4" cy="296.5" r="1.85"/><circle cx="186.2" cy="265.2" r="1.85"/><circle cx="187.9" cy="263.8" r="1.85"/><circle cx="190.2" cy="262.8" r="1.85"/><circle cx="191.3" cy="261.5" r="1.85"/><circle cx="193.7" cy="260.3" r="1.85"/><circle cx="195.6" cy="258.7" r="1.85"/><circle cx="196.9" cy="257.7" r="1.85"/><circle cx="199.1" cy="256.5" r="1.85"/><circle cx="201.1" cy="255.4" r="1.85"/><circle cx="193.1" cy="267.4" r="1.85"/><circle cx="195.9" cy="266.3" r="1.85"/><circle cx="197.8" cy="265.2" r="1.85"/><circle cx="199.8" cy="264.6" r="1.85"/><circle cx="201.9" cy="264.1" r="1.85"/><circle cx="204.3" cy="262.8" r="1.85"/><circle cx="206.5" cy="262" r="1.85"/><circle cx="208.3" cy="261.3" r="1.85"/><circle cx="211" cy="260" r="1.85"/><circle cx="212.6" cy="259.7" r="1.85"/><circle cx="214.9" cy="258.9" r="1.85"/><circle cx="216.8" cy="257.9" r="1.85"/><circle cx="219.2" cy="257.1" r="1.85"/><circle cx="191.4" cy="275.2" r="1.85"/><circle cx="193.8" cy="274.8" r="1.85"/><circle cx="196.3" cy="274.1" r="1.85"/><circle cx="198.3" cy="273.5" r="1.85"/><circle cx="200.4" cy="273.2" r="1.85"/><circle cx="203" cy="273" r="1.85"/><circle cx="205" cy="272.6" r="1.85"/><circle cx="207.5" cy="272.1" r="1.85"/><circle cx="209.5" cy="271.1" r="1.85"/><circle cx="211.8" cy="270.4" r="1.85"/><circle cx="185.9" cy="282.2" r="1.85"/><circle cx="188" cy="281.9" r="1.85"/><circle cx="190.1" cy="281.6" r="1.85"/><circle cx="192.5" cy="281" r="1.85"/><circle cx="194.4" cy="280.5" r="1.85"/><circle cx="196.7" cy="280.4" r="1.85"/><circle cx="199.3" cy="279.3" r="1.85"/><circle cx="201.6" cy="279" r="1.85"/><circle cx="203.4" cy="278.8" r="1.85"/><circle cx="205.3" cy="278.2" r="1.85"/><circle cx="208" cy="278.1" r="1.85"/><circle cx="210.4" cy="277.4" r="1.85"/><circle cx="178.2" cy="289.6" r="1.85"/><circle cx="180" cy="289.2" r="1.85"/><circle cx="182.1" cy="288.9" r="1.85"/><circle cx="184.3" cy="288.3" r="1.85"/><circle cx="186.8" cy="287.9" r="1.85"/><circle cx="188.9" cy="288" r="1.85"/><circle cx="191" cy="287.4" r="1.85"/><circle cx="193" cy="287" r="1.85"/><circle cx="195.6" cy="286" r="1.85"/></g>
<g class="w"><circle cx="200" cy="293" r="1.55"/><circle cx="197" cy="297" r="1.55"/><circle cx="193" cy="300" r="1.55"/><circle cx="192" cy="270" r="1.55"/><circle cx="200" cy="266" r="1.55"/><circle cx="204" cy="264" r="1.55"/><circle cx="153" cy="318" r="1.55"/><circle cx="156" cy="321" r="1.55"/><circle cx="154" cy="324.5" r="1.55"/><circle cx="159" cy="316.5" r="1.55"/><circle cx="161.5" cy="320" r="1.55"/></g>
<g class="k"><circle cx="218.9" cy="278.2" r="1.9"/><circle cx="225.2" cy="277.5" r="1.9"/><circle cx="229.1" cy="278.2" r="1.9"/><circle cx="231.3" cy="278.9" r="1.9"/><circle cx="218.9" cy="283.4" r="1.9"/><circle cx="209.2" cy="284.7" r="1.9"/><circle cx="197.2" cy="289.3" r="1.9"/><circle cx="205.8" cy="308.6" r="1.9"/><circle cx="230.9" cy="305.9" r="1.9"/><circle cx="248.2" cy="309.8" r="1.9"/><circle cx="250" cy="312.7" r="1.9"/><circle cx="256.8" cy="313.1" r="1.9"/><circle cx="220" cy="315.8" r="1.9"/><circle cx="229.5" cy="318.1" r="1.9"/><circle cx="238.8" cy="317.2" r="1.9"/><circle cx="206.5" cy="324" r="1.9"/><circle cx="208.5" cy="322.5" r="1.9"/><circle cx="210.5" cy="324.5" r="1.9"/><circle cx="212.5" cy="323" r="1.9"/><circle cx="208" cy="327" r="1.9"/><circle cx="210.5" cy="327.5" r="1.9"/><circle cx="214" cy="322.5" r="1.9"/><circle cx="140.5" cy="320" r="1.9"/><circle cx="143" cy="322.5" r="1.9"/><circle cx="145.5" cy="320.5" r="1.9"/><circle cx="147.5" cy="323.5" r="1.9"/><circle cx="142.5" cy="326" r="1.9"/><circle cx="139.5" cy="323.5" r="1.9"/><circle cx="145" cy="326" r="1.9"/></g>
</g>
<rect x="55.8" y="209.8" width="206.2" height="148.6" fill="none" stroke="#222" stroke-width="1.1"/>
<path d="M55.8 358.4v2.6M55.8 358.4h-3M97 358.4v2.6M55.8 328.7h-3M138.3 358.4v2.6M55.8 299h-3M179.5 358.4v2.6M55.8 269.2h-3M220.8 358.4v2.6M55.8 239.5h-3M262 358.4v2.6M55.8 209.8h-3" stroke="#222" stroke-width="1"/>
<text class="t" x="55.8" y="375.4" font-size="10.8" text-anchor="middle">0.000</text>
<text class="t" x="48.8" y="361.9" font-size="10.8" text-anchor="end">0.000</text>
<text class="t" x="97" y="375.4" font-size="10.8" text-anchor="middle">0.005</text>
<text class="t" x="48.8" y="332.2" font-size="10.8" text-anchor="end">0.005</text>
<text class="t" x="138.3" y="375.4" font-size="10.8" text-anchor="middle">0.010</text>
<text class="t" x="48.8" y="302.5" font-size="10.8" text-anchor="end">0.010</text>
<text class="t" x="179.5" y="375.4" font-size="10.8" text-anchor="middle">0.015</text>
<text class="t" x="48.8" y="272.7" font-size="10.8" text-anchor="end">0.015</text>
<text class="t" x="220.8" y="375.4" font-size="10.8" text-anchor="middle">0.020</text>
<text class="t" x="48.8" y="243" font-size="10.8" text-anchor="end">0.020</text>
<text class="t" x="262" y="375.4" font-size="10.8" text-anchor="middle">0.025</text>
<text class="t" x="48.8" y="213.3" font-size="10.8" text-anchor="end">0.025</text>
<text class="t" x="158.9" y="397.6" font-size="11.7" text-anchor="middle">Observed Rrs (sr<tspan font-size="9.5" dy="-3.3">-1</tspan><tspan dy="3.3">)</tspan></text>
<text class="t" font-size="11.75" text-anchor="middle" transform="translate(17.3 284.4) rotate(-90)">Estimated Rrs (sr<tspan font-size="9.6" dy="-3.3">-1</tspan><tspan dy="3.3">)</tspan></text>
<text class="t" x="66.7" y="231.3" font-size="16">c</text>
<text class="t" x="84.9" y="222.5" font-size="8.0">Training</text>
<text class="t" x="84.2" y="233.1" font-size="8.0">R<tspan font-size="5" dy="-3">2</tspan><tspan dy="3"> : 0.73</tspan></text>
<text class="t" x="84.2" y="242.9" font-size="8.0">RMSE : 0.0019 sr<tspan font-size="5" dy="-3">-1</tspan></text>
<text class="t" x="157.3" y="222.6" font-size="8.0">Validation</text>
<text class="t" x="157.3" y="233.1" font-size="8.0">R<tspan font-size="5" dy="-3">2</tspan><tspan dy="3"> : 0.70</tspan></text>
<text class="t" x="157.3" y="242.5" font-size="8.0">RMSE : 0.0019 sr<tspan font-size="5" dy="-3">-1</tspan></text>
<text class="t" x="231.6" y="222.6" font-size="8.0">1:1 line</text>
<clipPath id="cpd"><rect x="328" y="210" width="206.6" height="148.4"/></clipPath>
<line x1="328" y1="358.4" x2="534.6" y2="210" stroke="#111" stroke-width=".8"/>
<g clip-path="url(#cpd)">
<polygon points="331,325.9 336.2,319.5 343.6,313.6 347.8,307.9 353.8,304.1 358.8,296.6 369,294.3 377.3,291.1 386.4,294.6 396.8,290.5 404,285 414.7,280.6 423.8,276 432.8,272.4 441.9,268.9 450.5,266.2 458.9,265.5 466.7,261.1 471.7,258.6 474,257.2 471.6,261 467.6,269.1 465.4,277.9 467.4,290.1 466.8,297.6 463.9,302 451.6,306.3 438.6,312.7 428.9,316.7 423.1,324.3 420.1,327.3 414.2,327.1 406.4,328.5 399.2,330.5 392.4,332.9 385,335.9 377.2,339 369.9,345 366.2,350 358.4,350.2 347.2,352.5 341.7,354.1 333.7,355.9 330.3,356.7" fill="#000"/>
<g class="k"><circle cx="467.4" cy="260.7" r="1.8"/><circle cx="471.2" cy="261.1" r="1.8"/><circle cx="462.9" cy="264.5" r="1.8"/><circle cx="470" cy="264.9" r="1.8"/><circle cx="447" cy="267.7" r="1.8"/><circle cx="447.7" cy="273.6" r="1.8"/><circle cx="454.3" cy="273.8" r="1.8"/><circle cx="464.5" cy="273.6" r="1.8"/><circle cx="458.2" cy="279.3" r="1.8"/><circle cx="461.5" cy="279.3" r="1.8"/><circle cx="423.5" cy="285" r="1.8"/><circle cx="441.3" cy="285.2" r="1.8"/><circle cx="447.5" cy="285" r="1.8"/><circle cx="464.2" cy="285.5" r="1.8"/><circle cx="467.7" cy="285" r="1.8"/><circle cx="455.3" cy="287.3" r="1.8"/><circle cx="460" cy="287.7" r="1.8"/><circle cx="463.2" cy="288.6" r="1.8"/><circle cx="466.7" cy="287.3" r="1.8"/><circle cx="402.6" cy="291.5" r="1.8"/><circle cx="447.2" cy="290.5" r="1.8"/><circle cx="451.5" cy="290.6" r="1.8"/><circle cx="453.7" cy="290.3" r="1.8"/><circle cx="442.3" cy="293.8" r="1.8"/><circle cx="452.5" cy="293.3" r="1.8"/><circle cx="455.5" cy="293.9" r="1.8"/><circle cx="444.5" cy="297" r="1.8"/><circle cx="461.5" cy="297" r="1.8"/><circle cx="449.3" cy="300.2" r="1.8"/><circle cx="454.5" cy="302.1" r="1.8"/><circle cx="464" cy="303" r="1.8"/><circle cx="351" cy="305.6" r="1.8"/><circle cx="368" cy="306.2" r="1.8"/><circle cx="378.5" cy="306" r="1.8"/><circle cx="445.3" cy="305.1" r="1.8"/><circle cx="373.1" cy="308" r="1.8"/><circle cx="379.9" cy="309" r="1.8"/><circle cx="440.5" cy="308.2" r="1.8"/><circle cx="384.4" cy="311.2" r="1.8"/><circle cx="393.6" cy="314" r="1.8"/><circle cx="392.1" cy="317.7" r="1.8"/><circle cx="397.2" cy="320.8" r="1.8"/><circle cx="392.1" cy="323.1" r="1.8"/><circle cx="420.5" cy="325.8" r="1.8"/><circle cx="408" cy="328.8" r="1.8"/><circle cx="412.3" cy="328.5" r="1.8"/><circle cx="333.3" cy="341.3" r="1.8"/><circle cx="344" cy="340.8" r="1.8"/><circle cx="340.5" cy="346.4" r="1.8"/></g>
<g class="w"><circle cx="469.5" cy="258.8" r="1.55"/><circle cx="472.6" cy="258.1" r="1.55"/><circle cx="465.9" cy="263.7" r="1.55"/><circle cx="450.4" cy="266.9" r="1.55"/><circle cx="454.8" cy="267.3" r="1.55"/><circle cx="457.5" cy="267.1" r="1.55"/><circle cx="460.8" cy="267.5" r="1.55"/><circle cx="464.9" cy="267.8" r="1.55"/><circle cx="467.6" cy="267.1" r="1.55"/><circle cx="436.1" cy="270.6" r="1.55"/><circle cx="439.2" cy="269.6" r="1.55"/><circle cx="441.9" cy="270.8" r="1.55"/><circle cx="445.4" cy="270.8" r="1.55"/><circle cx="449.9" cy="270.3" r="1.55"/><circle cx="453.2" cy="270.8" r="1.55"/><circle cx="459.3" cy="269.8" r="1.55"/><circle cx="462.6" cy="270" r="1.55"/><circle cx="465.9" cy="270.8" r="1.55"/><circle cx="427.1" cy="273.5" r="1.55"/><circle cx="431.2" cy="273.4" r="1.55"/><circle cx="434" cy="273.3" r="1.55"/><circle cx="437.7" cy="273.4" r="1.55"/><circle cx="441.4" cy="273.6" r="1.55"/><circle cx="444.4" cy="273.2" r="1.55"/><circle cx="451" cy="273.6" r="1.55"/><circle cx="457.1" cy="273.7" r="1.55"/><circle cx="461.6" cy="273.3" r="1.55"/><circle cx="421.5" cy="276.4" r="1.55"/><circle cx="425.5" cy="276.2" r="1.55"/><circle cx="429.3" cy="276.1" r="1.55"/><circle cx="432.7" cy="276" r="1.55"/><circle cx="435.9" cy="276" r="1.55"/><circle cx="455.3" cy="276.7" r="1.55"/><circle cx="459.1" cy="276" r="1.55"/><circle cx="414.2" cy="279.6" r="1.55"/><circle cx="417.5" cy="279.6" r="1.55"/><circle cx="420.4" cy="278.9" r="1.55"/><circle cx="423.6" cy="279.5" r="1.55"/><circle cx="427.7" cy="279.2" r="1.55"/><circle cx="431" cy="279.7" r="1.55"/><circle cx="433.2" cy="279.3" r="1.55"/><circle cx="436.7" cy="279.1" r="1.55"/><circle cx="440.7" cy="278.9" r="1.55"/><circle cx="443.5" cy="279.2" r="1.55"/><circle cx="447.3" cy="279.6" r="1.55"/><circle cx="412.5" cy="281.8" r="1.55"/><circle cx="415.8" cy="282" r="1.55"/><circle cx="418.1" cy="282.5" r="1.55"/><circle cx="422.2" cy="282.1" r="1.55"/><circle cx="424.9" cy="281.4" r="1.55"/><circle cx="429" cy="281.8" r="1.55"/><circle cx="431.7" cy="281.6" r="1.55"/><circle cx="436.1" cy="282.6" r="1.55"/><circle cx="443" cy="281.6" r="1.55"/><circle cx="446.2" cy="282" r="1.55"/><circle cx="452.1" cy="282" r="1.55"/><circle cx="459.3" cy="281.6" r="1.55"/><circle cx="466" cy="281.6" r="1.55"/><circle cx="403.2" cy="285.4" r="1.55"/><circle cx="406.7" cy="285" r="1.55"/><circle cx="410.2" cy="284.7" r="1.55"/><circle cx="413.9" cy="284.3" r="1.55"/><circle cx="416.7" cy="285.4" r="1.55"/><circle cx="420" cy="284.5" r="1.55"/><circle cx="426.7" cy="285.6" r="1.55"/><circle cx="430.1" cy="285.6" r="1.55"/><circle cx="433.3" cy="285.4" r="1.55"/><circle cx="436.6" cy="284.9" r="1.55"/><circle cx="444.3" cy="284.5" r="1.55"/><circle cx="450.9" cy="284.6" r="1.55"/><circle cx="453.8" cy="284.7" r="1.55"/><circle cx="405" cy="288" r="1.55"/><circle cx="408" cy="288.5" r="1.55"/><circle cx="411.6" cy="288.2" r="1.55"/><circle cx="415" cy="287.9" r="1.55"/><circle cx="418.8" cy="288.2" r="1.55"/><circle cx="422.5" cy="287.9" r="1.55"/><circle cx="425.1" cy="287.2" r="1.55"/><circle cx="428.3" cy="288.5" r="1.55"/><circle cx="431.6" cy="287.3" r="1.55"/><circle cx="435.9" cy="287.5" r="1.55"/><circle cx="438.9" cy="288.5" r="1.55"/><circle cx="442" cy="287.6" r="1.55"/><circle cx="449.2" cy="287.3" r="1.55"/><circle cx="452.9" cy="288.3" r="1.55"/><circle cx="375.7" cy="290.8" r="1.55"/><circle cx="393" cy="291.2" r="1.55"/><circle cx="396.8" cy="290.2" r="1.55"/><circle cx="400.3" cy="290.4" r="1.55"/><circle cx="407.1" cy="290.9" r="1.55"/><circle cx="409.7" cy="290.4" r="1.55"/><circle cx="413.7" cy="290.9" r="1.55"/><circle cx="416.8" cy="290.3" r="1.55"/><circle cx="420.7" cy="290.6" r="1.55"/><circle cx="423.3" cy="291.1" r="1.55"/><circle cx="427.5" cy="290.2" r="1.55"/><circle cx="430.8" cy="290.7" r="1.55"/><circle cx="434.2" cy="290.3" r="1.55"/><circle cx="437.4" cy="291.2" r="1.55"/><circle cx="444.4" cy="290.5" r="1.55"/><circle cx="458.3" cy="291.4" r="1.55"/><circle cx="461.6" cy="291.4" r="1.55"/><circle cx="464" cy="290.3" r="1.55"/><circle cx="370.6" cy="293.3" r="1.55"/><circle cx="374.1" cy="293.6" r="1.55"/><circle cx="377.4" cy="293.1" r="1.55"/><circle cx="380.7" cy="293.5" r="1.55"/><circle cx="384.3" cy="294.1" r="1.55"/><circle cx="388.1" cy="293.4" r="1.55"/><circle cx="391.1" cy="294" r="1.55"/><circle cx="394.3" cy="293.9" r="1.55"/><circle cx="398.8" cy="293.5" r="1.55"/><circle cx="402" cy="294.4" r="1.55"/><circle cx="405.6" cy="293.7" r="1.55"/><circle cx="407.8" cy="293.1" r="1.55"/><circle cx="412.1" cy="293.3" r="1.55"/><circle cx="414.7" cy="293.8" r="1.55"/><circle cx="418.1" cy="294.3" r="1.55"/><circle cx="422.1" cy="294.4" r="1.55"/><circle cx="425.4" cy="293.6" r="1.55"/><circle cx="428.8" cy="293.8" r="1.55"/><circle cx="432.8" cy="293.2" r="1.55"/><circle cx="435" cy="293.2" r="1.55"/><circle cx="438.9" cy="294" r="1.55"/><circle cx="449.2" cy="293.5" r="1.55"/><circle cx="462.5" cy="293.4" r="1.55"/><circle cx="465.6" cy="293.8" r="1.55"/><circle cx="362.8" cy="297.3" r="1.55"/><circle cx="366.3" cy="296.6" r="1.55"/><circle cx="369.5" cy="296.5" r="1.55"/><circle cx="372.9" cy="296.2" r="1.55"/><circle cx="379.1" cy="296.4" r="1.55"/><circle cx="386.4" cy="297" r="1.55"/><circle cx="390" cy="296.9" r="1.55"/><circle cx="393.6" cy="296.5" r="1.55"/><circle cx="396.5" cy="296" r="1.55"/><circle cx="399.7" cy="297.2" r="1.55"/><circle cx="403.6" cy="297.2" r="1.55"/><circle cx="407.3" cy="297.1" r="1.55"/><circle cx="410.5" cy="296.1" r="1.55"/><circle cx="413.5" cy="296.9" r="1.55"/><circle cx="416.2" cy="296.3" r="1.55"/><circle cx="420.3" cy="296.2" r="1.55"/><circle cx="423.8" cy="296.1" r="1.55"/><circle cx="427.7" cy="296.6" r="1.55"/><circle cx="433.9" cy="296.5" r="1.55"/><circle cx="437.3" cy="297.1" r="1.55"/><circle cx="441.2" cy="297.2" r="1.55"/><circle cx="447.2" cy="297.2" r="1.55"/><circle cx="357.7" cy="300.3" r="1.55"/><circle cx="361" cy="299" r="1.55"/><circle cx="363.8" cy="299.8" r="1.55"/><circle cx="367.1" cy="299.1" r="1.55"/><circle cx="370.3" cy="299.6" r="1.55"/><circle cx="374.9" cy="300" r="1.55"/><circle cx="377.3" cy="300.1" r="1.55"/><circle cx="381.2" cy="300.2" r="1.55"/><circle cx="384.9" cy="299.2" r="1.55"/><circle cx="388.1" cy="299.2" r="1.55"/><circle cx="391.2" cy="299" r="1.55"/><circle cx="395.4" cy="299.8" r="1.55"/><circle cx="398.2" cy="300.2" r="1.55"/><circle cx="400.9" cy="300" r="1.55"/><circle cx="405.4" cy="299.2" r="1.55"/><circle cx="407.9" cy="299.2" r="1.55"/><circle cx="412.1" cy="299.8" r="1.55"/><circle cx="415.5" cy="300" r="1.55"/><circle cx="418.7" cy="299.8" r="1.55"/><circle cx="421.8" cy="299.8" r="1.55"/><circle cx="425" cy="299.5" r="1.55"/><circle cx="428.6" cy="300.1" r="1.55"/><circle cx="432.2" cy="299.8" r="1.55"/><circle cx="436.3" cy="299.9" r="1.55"/><circle cx="439.1" cy="299.6" r="1.55"/><circle cx="442.2" cy="300" r="1.55"/><circle cx="445.6" cy="300.1" r="1.55"/><circle cx="452.5" cy="300.3" r="1.55"/><circle cx="459" cy="299.2" r="1.55"/><circle cx="463.5" cy="299.6" r="1.55"/><circle cx="356.2" cy="302" r="1.55"/><circle cx="361.9" cy="301.9" r="1.55"/><circle cx="366.1" cy="302.2" r="1.55"/><circle cx="368.8" cy="302.3" r="1.55"/><circle cx="372.6" cy="302.3" r="1.55"/><circle cx="376.3" cy="303.3" r="1.55"/><circle cx="379.9" cy="303.1" r="1.55"/><circle cx="383.3" cy="302.7" r="1.55"/><circle cx="386.5" cy="302.4" r="1.55"/><circle cx="390" cy="303.3" r="1.55"/><circle cx="393.2" cy="303.1" r="1.55"/><circle cx="396.1" cy="302.9" r="1.55"/><circle cx="399.8" cy="303" r="1.55"/><circle cx="403.4" cy="302.5" r="1.55"/><circle cx="406.7" cy="302.3" r="1.55"/><circle cx="410.5" cy="302.2" r="1.55"/><circle cx="417.5" cy="302.4" r="1.55"/><circle cx="420" cy="303.1" r="1.55"/><circle cx="423.4" cy="303.1" r="1.55"/><circle cx="427.5" cy="303.3" r="1.55"/><circle cx="430" cy="301.9" r="1.55"/><circle cx="434.5" cy="302.9" r="1.55"/><circle cx="437.7" cy="301.9" r="1.55"/><circle cx="440.3" cy="303.1" r="1.55"/><circle cx="444.5" cy="302.3" r="1.55"/><circle cx="446.9" cy="303.2" r="1.55"/><circle cx="353.7" cy="305.2" r="1.55"/><circle cx="357.6" cy="306" r="1.55"/><circle cx="360.2" cy="306.1" r="1.55"/><circle cx="364.1" cy="306.2" r="1.55"/><circle cx="371.4" cy="305.1" r="1.55"/><circle cx="381.8" cy="305.9" r="1.55"/><circle cx="384.7" cy="305.7" r="1.55"/><circle cx="388.1" cy="305.7" r="1.55"/><circle cx="391.9" cy="305.6" r="1.55"/><circle cx="394.2" cy="305.9" r="1.55"/><circle cx="398.8" cy="305.2" r="1.55"/><circle cx="401.5" cy="305.1" r="1.55"/><circle cx="404.6" cy="306" r="1.55"/><circle cx="408.2" cy="305.7" r="1.55"/><circle cx="412.3" cy="304.9" r="1.55"/><circle cx="415.8" cy="305" r="1.55"/><circle cx="418.4" cy="305.6" r="1.55"/><circle cx="422.3" cy="306.2" r="1.55"/><circle cx="425.6" cy="305.6" r="1.55"/><circle cx="428.9" cy="305.8" r="1.55"/><circle cx="431.8" cy="305.4" r="1.55"/><circle cx="435.9" cy="305.1" r="1.55"/><circle cx="439.3" cy="305.9" r="1.55"/><circle cx="442.3" cy="306.1" r="1.55"/><circle cx="449.8" cy="305.2" r="1.55"/><circle cx="453.3" cy="305.7" r="1.55"/><circle cx="348.2" cy="309.2" r="1.55"/><circle cx="355.3" cy="308.9" r="1.55"/><circle cx="358.8" cy="308.8" r="1.55"/><circle cx="362.7" cy="308.8" r="1.55"/><circle cx="366.1" cy="308.5" r="1.55"/><circle cx="369.4" cy="307.8" r="1.55"/><circle cx="382.9" cy="308.5" r="1.55"/><circle cx="386.7" cy="308.8" r="1.55"/><circle cx="390" cy="308.8" r="1.55"/><circle cx="393" cy="309.2" r="1.55"/><circle cx="396.1" cy="308.3" r="1.55"/><circle cx="399.8" cy="308.9" r="1.55"/><circle cx="402.8" cy="309.1" r="1.55"/><circle cx="406.9" cy="308.6" r="1.55"/><circle cx="409.6" cy="308" r="1.55"/><circle cx="413.1" cy="308.3" r="1.55"/><circle cx="417.1" cy="309.2" r="1.55"/><circle cx="419.9" cy="308.2" r="1.55"/><circle cx="423.3" cy="309" r="1.55"/><circle cx="426.5" cy="308.9" r="1.55"/><circle cx="431" cy="308.3" r="1.55"/><circle cx="434.4" cy="308.7" r="1.55"/><circle cx="437.1" cy="308.6" r="1.55"/><circle cx="443.6" cy="308.1" r="1.55"/><circle cx="447.4" cy="308.1" r="1.55"/><circle cx="450.7" cy="308.1" r="1.55"/><circle cx="346.6" cy="311.5" r="1.55"/><circle cx="354.6" cy="311" r="1.55"/><circle cx="356.9" cy="312.1" r="1.55"/><circle cx="360.7" cy="311.2" r="1.55"/><circle cx="364.8" cy="310.9" r="1.55"/><circle cx="368.3" cy="311" r="1.55"/><circle cx="371" cy="311.6" r="1.55"/><circle cx="378" cy="311.8" r="1.55"/><circle cx="380.5" cy="311" r="1.55"/><circle cx="387.6" cy="312.1" r="1.55"/><circle cx="391.4" cy="311.7" r="1.55"/><circle cx="394.7" cy="312.1" r="1.55"/><circle cx="398.1" cy="311.4" r="1.55"/><circle cx="402.2" cy="311.1" r="1.55"/><circle cx="404.7" cy="311.5" r="1.55"/><circle cx="409" cy="311.6" r="1.55"/><circle cx="411.7" cy="311" r="1.55"/><circle cx="415.5" cy="310.8" r="1.55"/><circle cx="418.3" cy="311.4" r="1.55"/><circle cx="421.7" cy="311.8" r="1.55"/><circle cx="425.7" cy="310.9" r="1.55"/><circle cx="429.4" cy="310.9" r="1.55"/><circle cx="431.5" cy="311.1" r="1.55"/><circle cx="436.2" cy="311.6" r="1.55"/><circle cx="438.7" cy="311.5" r="1.55"/><circle cx="442.3" cy="312.1" r="1.55"/><circle cx="342.6" cy="314.4" r="1.55"/><circle cx="345.5" cy="313.9" r="1.55"/><circle cx="352.8" cy="314.8" r="1.55"/><circle cx="356" cy="314.9" r="1.55"/><circle cx="358.9" cy="314" r="1.55"/><circle cx="362" cy="314.2" r="1.55"/><circle cx="366.4" cy="313.7" r="1.55"/><circle cx="369.3" cy="313.7" r="1.55"/><circle cx="373.2" cy="314.9" r="1.55"/><circle cx="375.8" cy="314.2" r="1.55"/><circle cx="380.2" cy="314.5" r="1.55"/><circle cx="383" cy="314.4" r="1.55"/><circle cx="386.5" cy="314.7" r="1.55"/><circle cx="390.1" cy="313.8" r="1.55"/><circle cx="399.9" cy="314.6" r="1.55"/><circle cx="403.7" cy="313.8" r="1.55"/><circle cx="407.3" cy="314.9" r="1.55"/><circle cx="409.6" cy="314.7" r="1.55"/><circle cx="413.9" cy="314.4" r="1.55"/><circle cx="417.1" cy="314.6" r="1.55"/><circle cx="420.4" cy="314.9" r="1.55"/><circle cx="423.6" cy="313.8" r="1.55"/><circle cx="427.1" cy="314.8" r="1.55"/><circle cx="430.2" cy="315" r="1.55"/><circle cx="434.5" cy="314.8" r="1.55"/><circle cx="340.9" cy="316.8" r="1.55"/><circle cx="343.1" cy="316.7" r="1.55"/><circle cx="347.7" cy="317.1" r="1.55"/><circle cx="350.3" cy="316.9" r="1.55"/><circle cx="354.4" cy="317.4" r="1.55"/><circle cx="357.4" cy="318" r="1.55"/><circle cx="361.4" cy="317.7" r="1.55"/><circle cx="364.6" cy="317.9" r="1.55"/><circle cx="366.9" cy="317.1" r="1.55"/><circle cx="370.9" cy="316.7" r="1.55"/><circle cx="374.8" cy="317.6" r="1.55"/><circle cx="378.2" cy="317.1" r="1.55"/><circle cx="380.5" cy="317.8" r="1.55"/><circle cx="385.2" cy="317.6" r="1.55"/><circle cx="388.1" cy="317.1" r="1.55"/><circle cx="402" cy="317.3" r="1.55"/><circle cx="404.8" cy="317" r="1.55"/><circle cx="407.8" cy="317" r="1.55"/><circle cx="411.5" cy="317.6" r="1.55"/><circle cx="415.3" cy="317.5" r="1.55"/><circle cx="418.4" cy="317.5" r="1.55"/><circle cx="422.5" cy="317.6" r="1.55"/><circle cx="424.8" cy="316.9" r="1.55"/><circle cx="429" cy="318" r="1.55"/><circle cx="338.1" cy="320.3" r="1.55"/><circle cx="342.8" cy="320.9" r="1.55"/><circle cx="345.5" cy="319.9" r="1.55"/><circle cx="349.1" cy="320.3" r="1.55"/><circle cx="351.9" cy="319.7" r="1.55"/><circle cx="356.1" cy="320.1" r="1.55"/><circle cx="358.8" cy="319.9" r="1.55"/><circle cx="362.3" cy="319.7" r="1.55"/><circle cx="366.3" cy="320.4" r="1.55"/><circle cx="369.6" cy="320.9" r="1.55"/><circle cx="372.4" cy="320.7" r="1.55"/><circle cx="375.7" cy="320" r="1.55"/><circle cx="379.2" cy="320.8" r="1.55"/><circle cx="382.9" cy="320.4" r="1.55"/><circle cx="386.9" cy="320.1" r="1.55"/><circle cx="400.3" cy="320.8" r="1.55"/><circle cx="403.8" cy="320.2" r="1.55"/><circle cx="406.7" cy="320" r="1.55"/><circle cx="410.6" cy="320" r="1.55"/><circle cx="413.1" cy="319.6" r="1.55"/><circle cx="417.3" cy="320" r="1.55"/><circle cx="421" cy="319.8" r="1.55"/><circle cx="423.9" cy="320.8" r="1.55"/><circle cx="427.7" cy="320" r="1.55"/><circle cx="333.4" cy="323.6" r="1.55"/><circle cx="336.3" cy="323.8" r="1.55"/><circle cx="340.9" cy="323.6" r="1.55"/><circle cx="343.3" cy="322.9" r="1.55"/><circle cx="347.6" cy="322.7" r="1.55"/><circle cx="350.2" cy="323.4" r="1.55"/><circle cx="354.1" cy="322.9" r="1.55"/><circle cx="357.2" cy="323.3" r="1.55"/><circle cx="360.5" cy="322.9" r="1.55"/><circle cx="364.7" cy="322.9" r="1.55"/><circle cx="367.7" cy="323.5" r="1.55"/><circle cx="371.2" cy="323.5" r="1.55"/><circle cx="374.9" cy="322.7" r="1.55"/><circle cx="377.5" cy="323.9" r="1.55"/><circle cx="381.3" cy="323.5" r="1.55"/><circle cx="384.6" cy="323.5" r="1.55"/><circle cx="388.1" cy="323.1" r="1.55"/><circle cx="394.3" cy="322.8" r="1.55"/><circle cx="398" cy="323.8" r="1.55"/><circle cx="405.6" cy="322.7" r="1.55"/><circle cx="408.7" cy="322.7" r="1.55"/><circle cx="411.6" cy="323.5" r="1.55"/><circle cx="415.4" cy="322.9" r="1.55"/><circle cx="418" cy="323.5" r="1.55"/><circle cx="422.3" cy="323.5" r="1.55"/><circle cx="424.8" cy="322.9" r="1.55"/><circle cx="331.2" cy="325.9" r="1.55"/><circle cx="335.7" cy="326.1" r="1.55"/><circle cx="338.1" cy="326.2" r="1.55"/><circle cx="341.9" cy="325.7" r="1.55"/><circle cx="346.2" cy="326.2" r="1.55"/><circle cx="349.6" cy="325.7" r="1.55"/><circle cx="352.7" cy="326.7" r="1.55"/><circle cx="356.3" cy="326.7" r="1.55"/><circle cx="359.6" cy="326.1" r="1.55"/><circle cx="362.4" cy="326.1" r="1.55"/><circle cx="366" cy="326.8" r="1.55"/><circle cx="368.9" cy="326.5" r="1.55"/><circle cx="373.3" cy="326.7" r="1.55"/><circle cx="375.7" cy="325.7" r="1.55"/><circle cx="379.5" cy="325.7" r="1.55"/><circle cx="382.9" cy="326.5" r="1.55"/><circle cx="385.7" cy="325.5" r="1.55"/><circle cx="389.6" cy="326.6" r="1.55"/><circle cx="392.7" cy="326.1" r="1.55"/><circle cx="396.3" cy="326.9" r="1.55"/><circle cx="399.3" cy="326.4" r="1.55"/><circle cx="403" cy="326.2" r="1.55"/><circle cx="406.5" cy="325.9" r="1.55"/><circle cx="409.8" cy="326.9" r="1.55"/><circle cx="413.9" cy="325.7" r="1.55"/><circle cx="417.5" cy="326.8" r="1.55"/><circle cx="333.3" cy="329.1" r="1.55"/><circle cx="336.3" cy="329.7" r="1.55"/><circle cx="339.7" cy="329.7" r="1.55"/><circle cx="343.4" cy="328.9" r="1.55"/><circle cx="347.8" cy="329.7" r="1.55"/><circle cx="350" cy="329.1" r="1.55"/><circle cx="353.5" cy="329" r="1.55"/><circle cx="357.4" cy="328.5" r="1.55"/><circle cx="360.2" cy="329.7" r="1.55"/><circle cx="363.6" cy="328.4" r="1.55"/><circle cx="368" cy="328.9" r="1.55"/><circle cx="371.2" cy="328.7" r="1.55"/><circle cx="374.3" cy="328.5" r="1.55"/><circle cx="377.7" cy="329.3" r="1.55"/><circle cx="381.8" cy="328.9" r="1.55"/><circle cx="385" cy="329.1" r="1.55"/><circle cx="387.4" cy="329" r="1.55"/><circle cx="390.7" cy="329.1" r="1.55"/><circle cx="394.2" cy="329.7" r="1.55"/><circle cx="398.7" cy="329.1" r="1.55"/><circle cx="402.2" cy="328.5" r="1.55"/><circle cx="404.7" cy="328.4" r="1.55"/><circle cx="331.4" cy="331.8" r="1.55"/><circle cx="335.5" cy="332.6" r="1.55"/><circle cx="338.1" cy="332.6" r="1.55"/><circle cx="341.6" cy="331.6" r="1.55"/><circle cx="346" cy="331.6" r="1.55"/><circle cx="348.5" cy="331.7" r="1.55"/><circle cx="352.6" cy="331.8" r="1.55"/><circle cx="355.3" cy="331.9" r="1.55"/><circle cx="362.1" cy="331.7" r="1.55"/><circle cx="366.2" cy="331.6" r="1.55"/><circle cx="370" cy="331.6" r="1.55"/><circle cx="372.2" cy="331.7" r="1.55"/><circle cx="375.6" cy="332.6" r="1.55"/><circle cx="379.7" cy="332.1" r="1.55"/><circle cx="383.1" cy="331.6" r="1.55"/><circle cx="386.1" cy="332.4" r="1.55"/><circle cx="390.2" cy="332.6" r="1.55"/><circle cx="393.4" cy="332.7" r="1.55"/><circle cx="396.2" cy="332.3" r="1.55"/><circle cx="330.9" cy="334.5" r="1.55"/><circle cx="334" cy="335.2" r="1.55"/><circle cx="337.1" cy="335.2" r="1.55"/><circle cx="341" cy="335.5" r="1.55"/><circle cx="343.7" cy="334.4" r="1.55"/><circle cx="347.3" cy="335.1" r="1.55"/><circle cx="354.3" cy="334.6" r="1.55"/><circle cx="357.3" cy="335.6" r="1.55"/><circle cx="361.4" cy="335.2" r="1.55"/><circle cx="363.9" cy="335.4" r="1.55"/><circle cx="368.3" cy="335.4" r="1.55"/><circle cx="371.2" cy="335.7" r="1.55"/><circle cx="374.1" cy="335.5" r="1.55"/><circle cx="378.5" cy="335.4" r="1.55"/><circle cx="381.6" cy="334.6" r="1.55"/><circle cx="384.8" cy="334.3" r="1.55"/><circle cx="387.9" cy="334.5" r="1.55"/><circle cx="332.3" cy="338.5" r="1.55"/><circle cx="335.3" cy="338" r="1.55"/><circle cx="338" cy="337.8" r="1.55"/><circle cx="342.3" cy="338.1" r="1.55"/><circle cx="345.6" cy="337.3" r="1.55"/><circle cx="351.9" cy="337.5" r="1.55"/><circle cx="355.3" cy="338.5" r="1.55"/><circle cx="359.1" cy="338.4" r="1.55"/><circle cx="362.3" cy="338.4" r="1.55"/><circle cx="365.8" cy="337.5" r="1.55"/><circle cx="369.4" cy="337.6" r="1.55"/><circle cx="373.2" cy="337.4" r="1.55"/><circle cx="376" cy="338.3" r="1.55"/><circle cx="379.2" cy="337.5" r="1.55"/><circle cx="382.6" cy="338.1" r="1.55"/><circle cx="330.8" cy="341.6" r="1.55"/><circle cx="336.6" cy="341.4" r="1.55"/><circle cx="339.7" cy="341.4" r="1.55"/><circle cx="347" cy="341.5" r="1.55"/><circle cx="350.5" cy="341.2" r="1.55"/><circle cx="354.3" cy="340.7" r="1.55"/><circle cx="357.7" cy="340.4" r="1.55"/><circle cx="361.3" cy="341.4" r="1.55"/><circle cx="364.1" cy="341.1" r="1.55"/><circle cx="367.3" cy="340.8" r="1.55"/><circle cx="371.3" cy="341.5" r="1.55"/><circle cx="373.9" cy="340.8" r="1.55"/><circle cx="331.3" cy="343.4" r="1.55"/><circle cx="335.3" cy="343.4" r="1.55"/><circle cx="338.8" cy="344" r="1.55"/><circle cx="341.9" cy="343.3" r="1.55"/><circle cx="352.6" cy="344.2" r="1.55"/><circle cx="355.3" cy="344.2" r="1.55"/><circle cx="359.8" cy="343.5" r="1.55"/><circle cx="362.8" cy="343.9" r="1.55"/><circle cx="366.2" cy="344" r="1.55"/><circle cx="369.9" cy="343.9" r="1.55"/><circle cx="372.6" cy="343.2" r="1.55"/><circle cx="330.7" cy="346.3" r="1.55"/><circle cx="336.6" cy="347.1" r="1.55"/><circle cx="347.4" cy="346.7" r="1.55"/><circle cx="350.9" cy="347.2" r="1.55"/><circle cx="353.7" cy="346.2" r="1.55"/><circle cx="358" cy="346.1" r="1.55"/><circle cx="360.5" cy="347.2" r="1.55"/><circle cx="364.4" cy="347.2" r="1.55"/><circle cx="366.9" cy="346.6" r="1.55"/><circle cx="335.2" cy="350.1" r="1.55"/><circle cx="339" cy="350.2" r="1.55"/><circle cx="341.7" cy="349.7" r="1.55"/><circle cx="345.3" cy="349.9" r="1.55"/><circle cx="348.3" cy="349.9" r="1.55"/><circle cx="353" cy="350" r="1.55"/><circle cx="356.2" cy="349.4" r="1.55"/><circle cx="359.7" cy="349.1" r="1.55"/><circle cx="362.1" cy="349.7" r="1.55"/><circle cx="365.3" cy="350" r="1.55"/><circle cx="330.5" cy="352" r="1.55"/><circle cx="337" cy="353.4" r="1.55"/><circle cx="340.2" cy="352.5" r="1.55"/><circle cx="343.3" cy="352.1" r="1.55"/><circle cx="347.1" cy="352.9" r="1.55"/><circle cx="351.1" cy="352.4" r="1.55"/><circle cx="331.7" cy="355.2" r="1.55"/><circle cx="335.3" cy="355.5" r="1.55"/></g>
<g class="k"><circle cx="464.5" cy="261.3" r="1.8"/><circle cx="459.3" cy="264.5" r="1.8"/><circle cx="456.5" cy="270.1" r="1.8"/><circle cx="439.7" cy="275.9" r="1.8"/><circle cx="442" cy="275.8" r="1.8"/><circle cx="445.8" cy="275.8" r="1.8"/><circle cx="449.6" cy="275.7" r="1.8"/><circle cx="452.6" cy="276.3" r="1.8"/><circle cx="463.3" cy="275.6" r="1.8"/><circle cx="466.5" cy="276.3" r="1.8"/><circle cx="450.5" cy="279.5" r="1.8"/><circle cx="453.7" cy="279.5" r="1.8"/><circle cx="464.5" cy="279.1" r="1.8"/><circle cx="439.1" cy="281.3" r="1.8"/><circle cx="448.8" cy="282.3" r="1.8"/><circle cx="456.2" cy="282.3" r="1.8"/><circle cx="462.7" cy="282.1" r="1.8"/><circle cx="458.3" cy="285" r="1.8"/><circle cx="461" cy="284.3" r="1.8"/><circle cx="401" cy="287.9" r="1.8"/><circle cx="445.6" cy="288.2" r="1.8"/><circle cx="440.4" cy="291.2" r="1.8"/><circle cx="468.2" cy="291.5" r="1.8"/><circle cx="446.2" cy="293.3" r="1.8"/><circle cx="460.1" cy="294.5" r="1.8"/><circle cx="358.9" cy="297.2" r="1.8"/><circle cx="376.4" cy="296.8" r="1.8"/><circle cx="382.9" cy="297" r="1.8"/><circle cx="430.2" cy="296.9" r="1.8"/><circle cx="450.9" cy="296.6" r="1.8"/><circle cx="454.7" cy="296.5" r="1.8"/><circle cx="457.8" cy="296.9" r="1.8"/><circle cx="464.6" cy="296.7" r="1.8"/><circle cx="467.9" cy="296.2" r="1.8"/><circle cx="455.5" cy="299.4" r="1.8"/><circle cx="466" cy="300.2" r="1.8"/><circle cx="359.7" cy="303" r="1.8"/><circle cx="413.1" cy="302" r="1.8"/><circle cx="450.8" cy="303.2" r="1.8"/><circle cx="457.1" cy="301.9" r="1.8"/><circle cx="461.3" cy="302.3" r="1.8"/><circle cx="374.5" cy="306.1" r="1.8"/><circle cx="352.9" cy="307.9" r="1.8"/><circle cx="375.6" cy="308" r="1.8"/><circle cx="351.2" cy="311.4" r="1.8"/><circle cx="374.9" cy="311.6" r="1.8"/><circle cx="349.4" cy="314.6" r="1.8"/><circle cx="396.5" cy="314.6" r="1.8"/><circle cx="394.7" cy="317.2" r="1.8"/><circle cx="398" cy="316.7" r="1.8"/><circle cx="334.9" cy="320.5" r="1.8"/><circle cx="389.8" cy="320.1" r="1.8"/><circle cx="392.6" cy="320.9" r="1.8"/><circle cx="401.9" cy="323.5" r="1.8"/><circle cx="359.4" cy="332.3" r="1.8"/><circle cx="350.7" cy="335.7" r="1.8"/><circle cx="348.6" cy="338.3" r="1.8"/><circle cx="345.7" cy="343.4" r="1.8"/><circle cx="349.3" cy="343.6" r="1.8"/><circle cx="333.7" cy="346.2" r="1.8"/><circle cx="344.5" cy="346.3" r="1.8"/><circle cx="331.6" cy="350" r="1.8"/><circle cx="333.8" cy="353.2" r="1.8"/></g>
<g class="k"><circle cx="395.8" cy="287.6" r="1.8"/><circle cx="400" cy="284.3" r="1.8"/><circle cx="403.1" cy="282.3" r="1.8"/><circle cx="402.3" cy="283" r="1.8"/><circle cx="406.2" cy="281.7" r="1.8"/><circle cx="409.6" cy="279.6" r="1.8"/><circle cx="414" cy="278.3" r="1.8"/><circle cx="416.4" cy="276.3" r="1.8"/><circle cx="419.3" cy="274.9" r="1.8"/><circle cx="425.6" cy="271.9" r="1.8"/><circle cx="428.3" cy="271.2" r="1.8"/><circle cx="432.4" cy="270.2" r="1.8"/><circle cx="432.4" cy="270.1" r="1.8"/><circle cx="434.7" cy="268.8" r="1.8"/><circle cx="438.4" cy="267.2" r="1.8"/><circle cx="441.4" cy="266.1" r="1.8"/><circle cx="440.8" cy="265.9" r="1.8"/><circle cx="447.3" cy="264.1" r="1.8"/><circle cx="450.2" cy="264.1" r="1.8"/><circle cx="458.3" cy="262.9" r="1.8"/><circle cx="458.5" cy="263.5" r="1.8"/><circle cx="461.3" cy="261" r="1.8"/><circle cx="466.1" cy="259.2" r="1.8"/><circle cx="465.8" cy="258.9" r="1.8"/><circle cx="468.3" cy="257.2" r="1.8"/><circle cx="471.1" cy="255.8" r="1.8"/></g>
<g class="k"><circle cx="465.1" cy="303.1" r="1.8"/><circle cx="461.7" cy="304.5" r="1.8"/><circle cx="459.5" cy="305.2" r="1.8"/><circle cx="452.6" cy="307.2" r="1.8"/><circle cx="452.9" cy="307.5" r="1.8"/><circle cx="449.6" cy="309.3" r="1.8"/><circle cx="445.6" cy="311.4" r="1.8"/><circle cx="442.9" cy="312.8" r="1.8"/><circle cx="439.9" cy="314" r="1.8"/><circle cx="434.1" cy="316.1" r="1.8"/><circle cx="427.3" cy="322" r="1.8"/><circle cx="424.9" cy="324.9" r="1.8"/><circle cx="424.8" cy="325.5" r="1.8"/><circle cx="420.9" cy="328.3" r="1.8"/><circle cx="420.8" cy="328.2" r="1.8"/><circle cx="414.7" cy="328.3" r="1.8"/><circle cx="414.8" cy="329" r="1.8"/><circle cx="410.8" cy="329.1" r="1.8"/><circle cx="406.5" cy="329.9" r="1.8"/><circle cx="406.9" cy="330.3" r="1.8"/><circle cx="400.2" cy="332.3" r="1.8"/><circle cx="400.5" cy="332.5" r="1.8"/><circle cx="392.8" cy="334.3" r="1.8"/><circle cx="393.2" cy="333.7" r="1.8"/><circle cx="386.1" cy="337.2" r="1.8"/><circle cx="382.5" cy="338.4" r="1.8"/><circle cx="377.9" cy="339.8" r="1.8"/></g>
<g class="k"><circle cx="355.3" cy="313" r="1.85"/><circle cx="356.8" cy="311.1" r="1.85"/><circle cx="359.1" cy="310" r="1.85"/><circle cx="360.9" cy="308.8" r="1.85"/><circle cx="362.8" cy="307.4" r="1.85"/><circle cx="364.4" cy="306.6" r="1.85"/><circle cx="366.5" cy="305.3" r="1.85"/><circle cx="368.4" cy="303.8" r="1.85"/><circle cx="370.4" cy="302.8" r="1.85"/><circle cx="371.9" cy="301.4" r="1.85"/><circle cx="374.6" cy="300" r="1.85"/><circle cx="376.1" cy="298.5" r="1.85"/><circle cx="378.1" cy="297.3" r="1.85"/><circle cx="380" cy="296.2" r="1.85"/><circle cx="381.6" cy="295" r="1.85"/><circle cx="384.3" cy="294.2" r="1.85"/><circle cx="385.7" cy="292.5" r="1.85"/><circle cx="355.7" cy="314.3" r="1.85"/><circle cx="357.9" cy="313" r="1.85"/><circle cx="360.2" cy="311.9" r="1.85"/><circle cx="361.6" cy="310.7" r="1.85"/><circle cx="363.9" cy="309.2" r="1.85"/><circle cx="366" cy="307.8" r="1.85"/><circle cx="367.3" cy="307" r="1.85"/><circle cx="369.3" cy="305.4" r="1.85"/><circle cx="371.4" cy="304.2" r="1.85"/><circle cx="373.7" cy="303.3" r="1.85"/><circle cx="375.2" cy="302" r="1.85"/><circle cx="377.5" cy="300.7" r="1.85"/><circle cx="379.2" cy="299.2" r="1.85"/><circle cx="381" cy="298.1" r="1.85"/><circle cx="382.9" cy="297" r="1.85"/><circle cx="385.4" cy="295.5" r="1.85"/><circle cx="387.2" cy="294.5" r="1.85"/><circle cx="464.9" cy="263.8" r="1.85"/><circle cx="466.9" cy="261.6" r="1.85"/><circle cx="469.2" cy="260" r="1.85"/><circle cx="471.1" cy="258.6" r="1.85"/><circle cx="472.9" cy="257.2" r="1.85"/><circle cx="480.2" cy="262.4" r="1.85"/><circle cx="483.2" cy="261" r="1.85"/><circle cx="486.3" cy="260.1" r="1.85"/><circle cx="486.5" cy="259.7" r="1.85"/><circle cx="488.3" cy="259.1" r="1.85"/><circle cx="490.4" cy="258" r="1.85"/><circle cx="462.1" cy="270.3" r="1.85"/><circle cx="464.6" cy="269.1" r="1.85"/><circle cx="466.8" cy="268.3" r="1.85"/><circle cx="468.5" cy="267.4" r="1.85"/><circle cx="471.2" cy="266" r="1.85"/><circle cx="473.6" cy="265.7" r="1.85"/><circle cx="476" cy="264.2" r="1.85"/><circle cx="478" cy="263.4" r="1.85"/><circle cx="462" cy="277.2" r="1.85"/><circle cx="464.7" cy="277.2" r="1.85"/><circle cx="466.3" cy="276.5" r="1.85"/><circle cx="469.4" cy="276" r="1.85"/><circle cx="471.1" cy="276.1" r="1.85"/><circle cx="474" cy="275" r="1.85"/><circle cx="475.7" cy="275.1" r="1.85"/><circle cx="478.7" cy="274.2" r="1.85"/><circle cx="480.9" cy="273.9" r="1.85"/><circle cx="482.8" cy="273.3" r="1.85"/><circle cx="460" cy="283.4" r="1.85"/><circle cx="462.5" cy="282.9" r="1.85"/><circle cx="464.9" cy="282.5" r="1.85"/><circle cx="467.1" cy="282.2" r="1.85"/><circle cx="469.5" cy="281.6" r="1.85"/><circle cx="471.4" cy="281.1" r="1.85"/><circle cx="473.5" cy="280.2" r="1.85"/><circle cx="475.7" cy="279.8" r="1.85"/><circle cx="478.4" cy="279.7" r="1.85"/><circle cx="480.7" cy="279" r="1.85"/><circle cx="482.8" cy="278.5" r="1.85"/><circle cx="454.6" cy="290" r="1.85"/><circle cx="457.5" cy="289.5" r="1.85"/><circle cx="459.2" cy="288.7" r="1.85"/><circle cx="461.9" cy="287.8" r="1.85"/><circle cx="463.8" cy="287.6" r="1.85"/><circle cx="466" cy="286.9" r="1.85"/><circle cx="468.7" cy="286.1" r="1.85"/><circle cx="470.8" cy="285.7" r="1.85"/></g>
<g class="w"><circle cx="472" cy="296" r="1.55"/><circle cx="469" cy="300" r="1.55"/><circle cx="465" cy="303" r="1.55"/><circle cx="464" cy="270" r="1.55"/><circle cx="472" cy="266" r="1.55"/><circle cx="476" cy="264" r="1.55"/><circle cx="425.5" cy="318" r="1.55"/><circle cx="428.5" cy="321" r="1.55"/><circle cx="426.5" cy="324.5" r="1.55"/><circle cx="431.5" cy="316.5" r="1.55"/><circle cx="434" cy="320" r="1.55"/></g>
<g class="k"><circle cx="490.9" cy="280.4" r="1.9"/><circle cx="497.2" cy="280.4" r="1.9"/><circle cx="501.1" cy="282" r="1.9"/><circle cx="503.3" cy="282.7" r="1.9"/><circle cx="491.4" cy="286.5" r="1.9"/><circle cx="481.4" cy="288.8" r="1.9"/><circle cx="470.2" cy="291.7" r="1.9"/><circle cx="477.8" cy="309" r="1.9"/><circle cx="503.3" cy="306.4" r="1.9"/><circle cx="521.4" cy="309.8" r="1.9"/><circle cx="522.5" cy="312.7" r="1.9"/><circle cx="528.8" cy="313.1" r="1.9"/><circle cx="492" cy="315.8" r="1.9"/><circle cx="501.7" cy="317.6" r="1.9"/><circle cx="511.2" cy="317.2" r="1.9"/><circle cx="478.5" cy="324" r="1.9"/><circle cx="480.5" cy="322.5" r="1.9"/><circle cx="482.5" cy="324.5" r="1.9"/><circle cx="484.5" cy="323" r="1.9"/><circle cx="480" cy="327" r="1.9"/><circle cx="482.5" cy="327.5" r="1.9"/><circle cx="486" cy="322.5" r="1.9"/><circle cx="485.8" cy="258.8" r="1.9"/><circle cx="490.4" cy="257.9" r="1.9"/><circle cx="410.5" cy="320" r="1.9"/><circle cx="413" cy="322.5" r="1.9"/><circle cx="415.5" cy="320.5" r="1.9"/><circle cx="417.5" cy="323.5" r="1.9"/><circle cx="412.5" cy="326" r="1.9"/><circle cx="409.5" cy="323.5" r="1.9"/><circle cx="415" cy="326" r="1.9"/></g>
</g>
<rect x="328" y="210" width="206.6" height="148.4" fill="none" stroke="#222" stroke-width="1.1"/>
<path d="M328 358.4v2.6M328 358.4h-3M369.3 358.4v2.6M328 328.7h-3M410.6 358.4v2.6M328 299h-3M452 358.4v2.6M328 269.4h-3M493.3 358.4v2.6M328 239.7h-3M534.6 358.4v2.6M328 210h-3" stroke="#222" stroke-width="1"/>
<text class="t" x="328" y="375.4" font-size="10.8" text-anchor="middle">0.000</text>
<text class="t" x="321" y="361.9" font-size="10.8" text-anchor="end">0.000</text>
<text class="t" x="369.3" y="375.4" font-size="10.8" text-anchor="middle">0.005</text>
<text class="t" x="321" y="332.2" font-size="10.8" text-anchor="end">0.005</text>
<text class="t" x="410.6" y="375.4" font-size="10.8" text-anchor="middle">0.010</text>
<text class="t" x="321" y="302.5" font-size="10.8" text-anchor="end">0.010</text>
<text class="t" x="452" y="375.4" font-size="10.8" text-anchor="middle">0.015</text>
<text class="t" x="321" y="272.9" font-size="10.8" text-anchor="end">0.015</text>
<text class="t" x="493.3" y="375.4" font-size="10.8" text-anchor="middle">0.020</text>
<text class="t" x="321" y="243.2" font-size="10.8" text-anchor="end">0.020</text>
<text class="t" x="534.6" y="375.4" font-size="10.8" text-anchor="middle">0.025</text>
<text class="t" x="321" y="213.5" font-size="10.8" text-anchor="end">0.025</text>
<text class="t" x="431.3" y="397.6" font-size="11.7" text-anchor="middle">Observed Rrs (sr<tspan font-size="9.5" dy="-3.3">-1</tspan><tspan dy="3.3">)</tspan></text>
<text class="t" font-size="11.75" text-anchor="middle" transform="translate(289.5 284.5) rotate(-90)">Estimated Rrs (sr<tspan font-size="9.6" dy="-3.3">-1</tspan><tspan dy="3.3">)</tspan></text>
<text class="t" x="339" y="233" font-size="16">d</text>
<text class="t" x="360" y="223" font-size="8.0">Training</text>
<text class="t" x="359.3" y="233.6" font-size="8.0">R<tspan font-size="5" dy="-3">2</tspan><tspan dy="3"> : 0.71</tspan></text>
<text class="t" x="359.3" y="243" font-size="8.0">RMSE : 0.0020 sr<tspan font-size="5" dy="-3">-1</tspan></text>
<text class="t" x="433" y="222.6" font-size="8.0">Validation</text>
<text class="t" x="433" y="232.7" font-size="8.0">R<tspan font-size="5" dy="-3">2</tspan><tspan dy="3"> : 0.66</tspan></text>
<text class="t" x="433" y="242.5" font-size="8.0">RMSE : 0.0021 sr<tspan font-size="5" dy="-3">-1</tspan></text>
<text class="t" x="505.5" y="222.6" font-size="8.0">1:1 line</text>
<circle cx="186.5" cy="141.2" r="2.7" fill="#000"/>
<text class="t" x="195" y="143.5" font-size="8">Training dataset</text>
<circle cx="186.5" cy="153" r="2.35" fill="#fff" stroke="#000" stroke-width=".9"/>
<text class="t" x="194.3" y="155.3" font-size="8">Validation dataset</text>
</g>
<defs><filter id="bl" x="0" y="0" width="100%" height="100%"><feGaussianBlur stdDeviation="1"/></filter></defs>
<use href="#all" filter="url(#bl)" opacity="0.3"/>
</svg></body></html>
